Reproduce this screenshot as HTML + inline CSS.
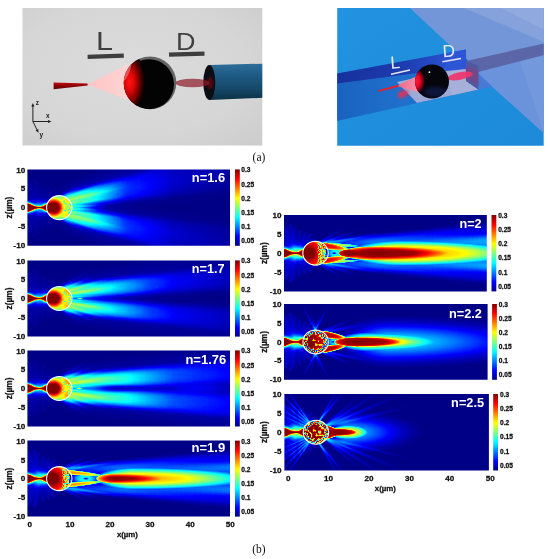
<!DOCTYPE html>
<html><head><meta charset="utf-8"><title>Figure</title>
<style>html,body{margin:0;padding:0;background:#fff}svg{display:block}</style></head>
<body><svg width="550" height="559" viewBox="0 0 550 559">
<defs><filter id="jet" x="0" y="0" width="1" height="1" color-interpolation-filters="sRGB"><feComponentTransfer><feFuncR type="table" tableValues="0 0 0 0 .5 1 1 1 .5"/><feFuncG type="table" tableValues="0 0 .5 1 1 1 .5 0 0"/><feFuncB type="table" tableValues=".5 1 1 1 .5 0 0 0 0"/></feComponentTransfer></filter><filter id="b02" x="-50%" y="-50%" width="200%" height="200%" color-interpolation-filters="sRGB"><feGaussianBlur stdDeviation="0.2"/></filter><filter id="b04" x="-50%" y="-50%" width="200%" height="200%" color-interpolation-filters="sRGB"><feGaussianBlur stdDeviation="0.4"/></filter><filter id="b07" x="-50%" y="-50%" width="200%" height="200%" color-interpolation-filters="sRGB"><feGaussianBlur stdDeviation="0.7"/></filter><filter id="b1" x="-50%" y="-50%" width="200%" height="200%" color-interpolation-filters="sRGB"><feGaussianBlur stdDeviation="1"/></filter><filter id="b15" x="-50%" y="-50%" width="200%" height="200%" color-interpolation-filters="sRGB"><feGaussianBlur stdDeviation="1.5"/></filter><filter id="b2" x="-50%" y="-50%" width="200%" height="200%" color-interpolation-filters="sRGB"><feGaussianBlur stdDeviation="2"/></filter><filter id="b3" x="-50%" y="-50%" width="200%" height="200%" color-interpolation-filters="sRGB"><feGaussianBlur stdDeviation="3"/></filter><radialGradient id="gs" cx="0" cy="0" r="1" gradientUnits="userSpaceOnUse"><stop offset="0.000" stop-color="#fff" stop-opacity="1.000"/><stop offset="0.100" stop-color="#fff" stop-opacity="0.970"/><stop offset="0.200" stop-color="#fff" stop-opacity="0.886"/><stop offset="0.300" stop-color="#fff" stop-opacity="0.761"/><stop offset="0.400" stop-color="#fff" stop-opacity="0.613"/><stop offset="0.500" stop-color="#fff" stop-opacity="0.461"/><stop offset="0.600" stop-color="#fff" stop-opacity="0.321"/><stop offset="0.700" stop-color="#fff" stop-opacity="0.202"/><stop offset="0.800" stop-color="#fff" stop-opacity="0.111"/><stop offset="0.900" stop-color="#fff" stop-opacity="0.045"/><stop offset="1.000" stop-color="#fff" stop-opacity="0.000"/></radialGradient><radialGradient id="gf" cx="0" cy="0" r="1" gradientUnits="userSpaceOnUse"><stop offset="0.000" stop-color="#fff" stop-opacity="1.000"/><stop offset="0.100" stop-color="#fff" stop-opacity="0.998"/><stop offset="0.200" stop-color="#fff" stop-opacity="0.981"/><stop offset="0.300" stop-color="#fff" stop-opacity="0.924"/><stop offset="0.400" stop-color="#fff" stop-opacity="0.805"/><stop offset="0.500" stop-color="#fff" stop-opacity="0.623"/><stop offset="0.600" stop-color="#fff" stop-opacity="0.407"/><stop offset="0.700" stop-color="#fff" stop-opacity="0.213"/><stop offset="0.800" stop-color="#fff" stop-opacity="0.083"/><stop offset="0.900" stop-color="#fff" stop-opacity="0.020"/><stop offset="1.000" stop-color="#fff" stop-opacity="0.000"/></radialGradient><radialGradient id="gk" cx="0" cy="0" r="1" gradientUnits="userSpaceOnUse"><stop offset="0.000" stop-color="#fff" stop-opacity="1.000"/><stop offset="0.100" stop-color="#fff" stop-opacity="0.878"/><stop offset="0.200" stop-color="#fff" stop-opacity="0.636"/><stop offset="0.300" stop-color="#fff" stop-opacity="0.424"/><stop offset="0.400" stop-color="#fff" stop-opacity="0.276"/><stop offset="0.500" stop-color="#fff" stop-opacity="0.179"/><stop offset="0.600" stop-color="#fff" stop-opacity="0.114"/><stop offset="0.700" stop-color="#fff" stop-opacity="0.070"/><stop offset="0.800" stop-color="#fff" stop-opacity="0.039"/><stop offset="0.900" stop-color="#fff" stop-opacity="0.017"/><stop offset="1.000" stop-color="#fff" stop-opacity="0.000"/></radialGradient><rect id="gsL" x="-1" y="-1" width="1" height="2" fill="url(#gs)" shape-rendering="crispEdges"/><rect id="gsR" x="0" y="-1" width="1" height="2" fill="url(#gs)" shape-rendering="crispEdges"/><circle id="gsC" r="1" fill="url(#gs)"/><radialGradient id="gsk" cx="0" cy="0" r="1" gradientUnits="userSpaceOnUse"><stop offset="0.000" stop-color="#000" stop-opacity="1.000"/><stop offset="0.100" stop-color="#000" stop-opacity="0.970"/><stop offset="0.200" stop-color="#000" stop-opacity="0.886"/><stop offset="0.300" stop-color="#000" stop-opacity="0.761"/><stop offset="0.400" stop-color="#000" stop-opacity="0.613"/><stop offset="0.500" stop-color="#000" stop-opacity="0.461"/><stop offset="0.600" stop-color="#000" stop-opacity="0.321"/><stop offset="0.700" stop-color="#000" stop-opacity="0.202"/><stop offset="0.800" stop-color="#000" stop-opacity="0.111"/><stop offset="0.900" stop-color="#000" stop-opacity="0.045"/><stop offset="1.000" stop-color="#000" stop-opacity="0.000"/></radialGradient><circle id="gsD" r="1" fill="url(#gsk)"/><rect id="gsDL" x="-1" y="-1" width="1" height="2" fill="url(#gsk)" shape-rendering="crispEdges"/><rect id="gsDR" x="0" y="-1" width="1" height="2" fill="url(#gsk)" shape-rendering="crispEdges"/><rect id="gfL" x="-1" y="-1" width="1" height="2" fill="url(#gf)" shape-rendering="crispEdges"/><rect id="gfR" x="0" y="-1" width="1" height="2" fill="url(#gf)" shape-rendering="crispEdges"/><circle id="gfC" r="1" fill="url(#gf)"/><radialGradient id="gfk" cx="0" cy="0" r="1" gradientUnits="userSpaceOnUse"><stop offset="0.000" stop-color="#000" stop-opacity="1.000"/><stop offset="0.100" stop-color="#000" stop-opacity="0.998"/><stop offset="0.200" stop-color="#000" stop-opacity="0.981"/><stop offset="0.300" stop-color="#000" stop-opacity="0.924"/><stop offset="0.400" stop-color="#000" stop-opacity="0.805"/><stop offset="0.500" stop-color="#000" stop-opacity="0.623"/><stop offset="0.600" stop-color="#000" stop-opacity="0.407"/><stop offset="0.700" stop-color="#000" stop-opacity="0.213"/><stop offset="0.800" stop-color="#000" stop-opacity="0.083"/><stop offset="0.900" stop-color="#000" stop-opacity="0.020"/><stop offset="1.000" stop-color="#000" stop-opacity="0.000"/></radialGradient><circle id="gfD" r="1" fill="url(#gfk)"/><rect id="gfDL" x="-1" y="-1" width="1" height="2" fill="url(#gfk)" shape-rendering="crispEdges"/><rect id="gfDR" x="0" y="-1" width="1" height="2" fill="url(#gfk)" shape-rendering="crispEdges"/><rect id="gkL" x="-1" y="-1" width="1" height="2" fill="url(#gk)" shape-rendering="crispEdges"/><rect id="gkR" x="0" y="-1" width="1" height="2" fill="url(#gk)" shape-rendering="crispEdges"/><circle id="gkC" r="1" fill="url(#gk)"/><radialGradient id="gkk" cx="0" cy="0" r="1" gradientUnits="userSpaceOnUse"><stop offset="0.000" stop-color="#000" stop-opacity="1.000"/><stop offset="0.100" stop-color="#000" stop-opacity="0.946"/><stop offset="0.200" stop-color="#000" stop-opacity="0.800"/><stop offset="0.300" stop-color="#000" stop-opacity="0.605"/><stop offset="0.400" stop-color="#000" stop-opacity="0.409"/><stop offset="0.500" stop-color="#000" stop-opacity="0.246"/><stop offset="0.600" stop-color="#000" stop-opacity="0.132"/><stop offset="0.700" stop-color="#000" stop-opacity="0.062"/><stop offset="0.800" stop-color="#000" stop-opacity="0.025"/><stop offset="0.900" stop-color="#000" stop-opacity="0.007"/><stop offset="1.000" stop-color="#000" stop-opacity="0.000"/></radialGradient><circle id="gkD" r="1" fill="url(#gkk)"/><rect id="gkDL" x="-1" y="-1" width="1" height="2" fill="url(#gkk)" shape-rendering="crispEdges"/><rect id="gkDR" x="0" y="-1" width="1" height="2" fill="url(#gkk)" shape-rendering="crispEdges"/><linearGradient id="cb" x1="0" y1="0" x2="0" y2="1"><stop offset="0.0000" stop-color="rgb(128,0,0)"/><stop offset="0.0312" stop-color="rgb(159,0,0)"/><stop offset="0.0625" stop-color="rgb(191,0,0)"/><stop offset="0.0938" stop-color="rgb(223,0,0)"/><stop offset="0.1250" stop-color="rgb(254,0,0)"/><stop offset="0.1562" stop-color="rgb(255,31,0)"/><stop offset="0.1875" stop-color="rgb(255,63,0)"/><stop offset="0.2188" stop-color="rgb(255,95,0)"/><stop offset="0.2500" stop-color="rgb(255,126,0)"/><stop offset="0.2812" stop-color="rgb(255,158,0)"/><stop offset="0.3125" stop-color="rgb(255,190,0)"/><stop offset="0.3438" stop-color="rgb(255,221,0)"/><stop offset="0.3750" stop-color="rgb(255,253,0)"/><stop offset="0.4062" stop-color="rgb(225,255,30)"/><stop offset="0.4375" stop-color="rgb(193,255,62)"/><stop offset="0.4688" stop-color="rgb(162,255,93)"/><stop offset="0.5000" stop-color="rgb(130,255,125)"/><stop offset="0.5312" stop-color="rgb(98,255,157)"/><stop offset="0.5625" stop-color="rgb(67,255,188)"/><stop offset="0.5938" stop-color="rgb(35,255,220)"/><stop offset="0.6250" stop-color="rgb(3,255,252)"/><stop offset="0.6562" stop-color="rgb(0,226,255)"/><stop offset="0.6875" stop-color="rgb(0,195,255)"/><stop offset="0.7188" stop-color="rgb(0,163,255)"/><stop offset="0.7500" stop-color="rgb(0,131,255)"/><stop offset="0.7812" stop-color="rgb(0,100,255)"/><stop offset="0.8125" stop-color="rgb(0,68,255)"/><stop offset="0.8438" stop-color="rgb(0,36,255)"/><stop offset="0.8750" stop-color="rgb(0,4,255)"/><stop offset="0.9062" stop-color="rgb(0,0,228)"/><stop offset="0.9375" stop-color="rgb(0,0,196)"/><stop offset="0.9688" stop-color="rgb(0,0,164)"/><stop offset="1.0000" stop-color="rgb(0,0,133)"/></linearGradient><clipPath id="sph"><ellipse cx="7.25" cy="0" rx="3.05" ry="3.1"/></clipPath><filter id="spk" x="0" y="0" width="1" height="1" color-interpolation-filters="sRGB"><feTurbulence type="fractalNoise" baseFrequency="1.7" numOctaves="1" seed="3" result="n"/><feColorMatrix in="n" type="matrix" values="0 0 0 0 0  0 0 0 0 0  0 0 0 0 0  7 0 0 0 -3.7"/><feComposite in2="SourceGraphic" operator="in"/></filter><filter id="spk3" x="-0.2" y="-0.2" width="1.4" height="1.4" color-interpolation-filters="sRGB"><feTurbulence type="fractalNoise" baseFrequency="3.2" numOctaves="1" seed="7" result="n"/><feColorMatrix in="n" type="matrix" values="0 0 0 0 0  0 0 0 0 0  0 0 0 0 0  7 0 0 0 -3.1"/><feComposite in2="SourceGraphic" operator="in"/></filter><filter id="spk2" x="0" y="0" width="1" height="1" color-interpolation-filters="sRGB"><feTurbulence type="fractalNoise" baseFrequency="1.9" numOctaves="1" seed="11" result="n"/><feColorMatrix in="n" type="matrix" values="0 0 0 0 1  0 0 0 0 1  0 0 0 0 1  0 5 0 0 -2.2"/><feComposite in2="SourceGraphic" operator="in"/></filter><linearGradient id="w16c" gradientUnits="userSpaceOnUse" x1="8.50" y1="0" x2="52.00" y2="0"><stop offset="0.000" stop-color="#fff" stop-opacity="0.100"/><stop offset="0.149" stop-color="#fff" stop-opacity="0.080"/><stop offset="0.356" stop-color="#fff" stop-opacity="0.040"/><stop offset="0.632" stop-color="#fff" stop-opacity="0.020"/><stop offset="1.000" stop-color="#fff" stop-opacity="0.008"/></linearGradient><linearGradient id="w16a" gradientUnits="userSpaceOnUse" x1="8.50" y1="0" x2="52.00" y2="0"><stop offset="0.000" stop-color="#fff" stop-opacity="0.400"/><stop offset="0.149" stop-color="#fff" stop-opacity="0.360"/><stop offset="0.264" stop-color="#fff" stop-opacity="0.230"/><stop offset="0.356" stop-color="#fff" stop-opacity="0.120"/><stop offset="0.632" stop-color="#fff" stop-opacity="0.040"/><stop offset="1.000" stop-color="#fff" stop-opacity="0.015"/></linearGradient><linearGradient id="w16b" gradientUnits="userSpaceOnUse" x1="8.50" y1="0" x2="52.00" y2="0"><stop offset="0.000" stop-color="#fff" stop-opacity="0.100"/><stop offset="0.149" stop-color="#fff" stop-opacity="0.080"/><stop offset="0.356" stop-color="#fff" stop-opacity="0.030"/><stop offset="0.632" stop-color="#fff" stop-opacity="0.020"/><stop offset="1.000" stop-color="#fff" stop-opacity="0.012"/></linearGradient><radialGradient id="rg1" cx="0" cy="0" r="1" gradientUnits="userSpaceOnUse"><stop offset="0.000" stop-color="#fff" stop-opacity="1.000"/><stop offset="0.280" stop-color="#fff" stop-opacity="1.000"/><stop offset="0.380" stop-color="#fff" stop-opacity="0.880"/><stop offset="0.470" stop-color="#fff" stop-opacity="0.750"/><stop offset="0.560" stop-color="#fff" stop-opacity="0.620"/><stop offset="0.660" stop-color="#fff" stop-opacity="0.500"/><stop offset="0.780" stop-color="#fff" stop-opacity="0.400"/><stop offset="0.900" stop-color="#fff" stop-opacity="0.320"/><stop offset="1.000" stop-color="#fff" stop-opacity="0.280"/></radialGradient><linearGradient id="w17c" gradientUnits="userSpaceOnUse" x1="8.50" y1="0" x2="52.00" y2="0"><stop offset="0.000" stop-color="#fff" stop-opacity="0.080"/><stop offset="0.172" stop-color="#fff" stop-opacity="0.070"/><stop offset="0.356" stop-color="#fff" stop-opacity="0.040"/><stop offset="0.632" stop-color="#fff" stop-opacity="0.025"/><stop offset="1.000" stop-color="#fff" stop-opacity="0.015"/></linearGradient><linearGradient id="w17a" gradientUnits="userSpaceOnUse" x1="8.50" y1="0" x2="52.00" y2="0"><stop offset="0.000" stop-color="#fff" stop-opacity="0.420"/><stop offset="0.172" stop-color="#fff" stop-opacity="0.380"/><stop offset="0.356" stop-color="#fff" stop-opacity="0.250"/><stop offset="0.494" stop-color="#fff" stop-opacity="0.140"/><stop offset="0.632" stop-color="#fff" stop-opacity="0.080"/><stop offset="1.000" stop-color="#fff" stop-opacity="0.030"/></linearGradient><linearGradient id="w17b" gradientUnits="userSpaceOnUse" x1="8.50" y1="0" x2="52.00" y2="0"><stop offset="0.000" stop-color="#fff" stop-opacity="0.100"/><stop offset="0.172" stop-color="#fff" stop-opacity="0.080"/><stop offset="0.356" stop-color="#fff" stop-opacity="0.050"/><stop offset="0.632" stop-color="#fff" stop-opacity="0.025"/><stop offset="1.000" stop-color="#fff" stop-opacity="0.010"/></linearGradient><radialGradient id="rg2" cx="0" cy="0" r="1" gradientUnits="userSpaceOnUse"><stop offset="0.000" stop-color="#fff" stop-opacity="1.000"/><stop offset="0.280" stop-color="#fff" stop-opacity="1.000"/><stop offset="0.380" stop-color="#fff" stop-opacity="0.880"/><stop offset="0.470" stop-color="#fff" stop-opacity="0.750"/><stop offset="0.570" stop-color="#fff" stop-opacity="0.620"/><stop offset="0.700" stop-color="#fff" stop-opacity="0.500"/><stop offset="0.850" stop-color="#fff" stop-opacity="0.420"/><stop offset="1.000" stop-color="#fff" stop-opacity="0.360"/></radialGradient><linearGradient id="w176c" gradientUnits="userSpaceOnUse" x1="8.50" y1="0" x2="52.00" y2="0"><stop offset="0.000" stop-color="#fff" stop-opacity="0.080"/><stop offset="0.172" stop-color="#fff" stop-opacity="0.070"/><stop offset="0.356" stop-color="#fff" stop-opacity="0.050"/><stop offset="0.632" stop-color="#fff" stop-opacity="0.040"/><stop offset="1.000" stop-color="#fff" stop-opacity="0.030"/></linearGradient><linearGradient id="w176a" gradientUnits="userSpaceOnUse" x1="8.50" y1="0" x2="52.00" y2="0"><stop offset="0.000" stop-color="#fff" stop-opacity="0.440"/><stop offset="0.172" stop-color="#fff" stop-opacity="0.420"/><stop offset="0.356" stop-color="#fff" stop-opacity="0.350"/><stop offset="0.494" stop-color="#fff" stop-opacity="0.240"/><stop offset="0.632" stop-color="#fff" stop-opacity="0.150"/><stop offset="1.000" stop-color="#fff" stop-opacity="0.070"/></linearGradient><linearGradient id="w176b" gradientUnits="userSpaceOnUse" x1="8.50" y1="0" x2="52.00" y2="0"><stop offset="0.000" stop-color="#fff" stop-opacity="0.100"/><stop offset="0.172" stop-color="#fff" stop-opacity="0.090"/><stop offset="0.356" stop-color="#fff" stop-opacity="0.070"/><stop offset="0.632" stop-color="#fff" stop-opacity="0.040"/><stop offset="1.000" stop-color="#fff" stop-opacity="0.020"/></linearGradient><radialGradient id="rg3" cx="0" cy="0" r="1" gradientUnits="userSpaceOnUse"><stop offset="0.000" stop-color="#fff" stop-opacity="1.000"/><stop offset="0.280" stop-color="#fff" stop-opacity="1.000"/><stop offset="0.380" stop-color="#fff" stop-opacity="0.880"/><stop offset="0.470" stop-color="#fff" stop-opacity="0.750"/><stop offset="0.570" stop-color="#fff" stop-opacity="0.620"/><stop offset="0.700" stop-color="#fff" stop-opacity="0.500"/><stop offset="0.850" stop-color="#fff" stop-opacity="0.440"/><stop offset="1.000" stop-color="#fff" stop-opacity="0.380"/></radialGradient><linearGradient id="w19t" gradientUnits="userSpaceOnUse" x1="26.00" y1="0" x2="52.00" y2="0"><stop offset="0.000" stop-color="#fff" stop-opacity="0.000"/><stop offset="0.385" stop-color="#fff" stop-opacity="0.100"/><stop offset="1.000" stop-color="#fff" stop-opacity="0.200"/></linearGradient><linearGradient id="w19s" gradientUnits="userSpaceOnUse" x1="10.00" y1="0" x2="52.00" y2="0"><stop offset="0.000" stop-color="#fff" stop-opacity="0.220"/><stop offset="0.238" stop-color="#fff" stop-opacity="0.200"/><stop offset="0.595" stop-color="#fff" stop-opacity="0.140"/><stop offset="1.000" stop-color="#fff" stop-opacity="0.085"/></linearGradient><radialGradient id="mg4" cx="0" cy="0" r="1" gradientUnits="userSpaceOnUse"><stop offset="0.000" stop-color="rgb(184,184,184)"/><stop offset="0.200" stop-color="rgb(178,178,178)"/><stop offset="0.430" stop-color="rgb(159,159,159)"/><stop offset="0.600" stop-color="rgb(128,128,128)"/><stop offset="0.760" stop-color="rgb(96,96,96)"/><stop offset="0.900" stop-color="rgb(56,56,56)"/><stop offset="1.000" stop-color="rgb(0,0,0)"/></radialGradient><radialGradient id="mg5" cx="0" cy="0" r="1" gradientUnits="userSpaceOnUse"><stop offset="0.000" stop-color="rgb(255,255,255)"/><stop offset="0.390" stop-color="rgb(247,247,247)"/><stop offset="0.580" stop-color="rgb(223,223,223)"/><stop offset="0.800" stop-color="rgb(191,191,191)"/><stop offset="1.000" stop-color="rgb(158,158,158)"/></radialGradient><radialGradient id="mg6" cx="0" cy="0" r="1" gradientUnits="userSpaceOnUse"><stop offset="0.000" stop-color="rgb(189,189,189)"/><stop offset="0.400" stop-color="rgb(178,178,178)"/><stop offset="0.650" stop-color="rgb(158,158,158)"/><stop offset="0.850" stop-color="rgb(102,102,102)"/><stop offset="1.000" stop-color="rgb(0,0,0)"/></radialGradient><radialGradient id="mg7" cx="0" cy="0" r="1" gradientUnits="userSpaceOnUse"><stop offset="0.000" stop-color="rgb(189,189,189)"/><stop offset="0.400" stop-color="rgb(178,178,178)"/><stop offset="0.650" stop-color="rgb(158,158,158)"/><stop offset="0.850" stop-color="rgb(102,102,102)"/><stop offset="1.000" stop-color="rgb(0,0,0)"/></radialGradient><radialGradient id="rg8" cx="0" cy="0" r="1" gradientUnits="userSpaceOnUse"><stop offset="0.000" stop-color="#fff" stop-opacity="1.000"/><stop offset="0.300" stop-color="#fff" stop-opacity="1.000"/><stop offset="0.500" stop-color="#fff" stop-opacity="0.920"/><stop offset="0.700" stop-color="#fff" stop-opacity="0.860"/><stop offset="0.850" stop-color="#fff" stop-opacity="0.700"/><stop offset="1.000" stop-color="#fff" stop-opacity="0.500"/></radialGradient><linearGradient id="w20t" gradientUnits="userSpaceOnUse" x1="26.00" y1="0" x2="52.00" y2="0"><stop offset="0.000" stop-color="#fff" stop-opacity="0.000"/><stop offset="0.385" stop-color="#fff" stop-opacity="0.120"/><stop offset="1.000" stop-color="#fff" stop-opacity="0.240"/></linearGradient><linearGradient id="w20s" gradientUnits="userSpaceOnUse" x1="10.00" y1="0" x2="52.00" y2="0"><stop offset="0.000" stop-color="#fff" stop-opacity="0.220"/><stop offset="0.238" stop-color="#fff" stop-opacity="0.200"/><stop offset="0.595" stop-color="#fff" stop-opacity="0.140"/><stop offset="1.000" stop-color="#fff" stop-opacity="0.085"/></linearGradient><radialGradient id="mg9" cx="0" cy="0" r="1" gradientUnits="userSpaceOnUse"><stop offset="0.000" stop-color="rgb(189,189,189)"/><stop offset="0.250" stop-color="rgb(178,178,178)"/><stop offset="0.500" stop-color="rgb(159,159,159)"/><stop offset="0.650" stop-color="rgb(128,128,128)"/><stop offset="0.770" stop-color="rgb(96,96,96)"/><stop offset="0.900" stop-color="rgb(56,56,56)"/><stop offset="1.000" stop-color="rgb(0,0,0)"/></radialGradient><radialGradient id="mg10" cx="0" cy="0" r="1" gradientUnits="userSpaceOnUse"><stop offset="0.000" stop-color="rgb(255,255,255)"/><stop offset="0.550" stop-color="rgb(247,247,247)"/><stop offset="0.710" stop-color="rgb(223,223,223)"/><stop offset="0.890" stop-color="rgb(191,191,191)"/><stop offset="1.000" stop-color="rgb(168,168,168)"/></radialGradient><radialGradient id="mg11" cx="0" cy="0" r="1" gradientUnits="userSpaceOnUse"><stop offset="0.000" stop-color="rgb(255,255,255)"/><stop offset="0.600" stop-color="rgb(247,247,247)"/><stop offset="0.850" stop-color="rgb(230,230,230)"/><stop offset="1.000" stop-color="rgb(204,204,204)"/></radialGradient><radialGradient id="mg12" cx="0" cy="0" r="1" gradientUnits="userSpaceOnUse"><stop offset="0.000" stop-color="rgb(230,230,230)"/><stop offset="0.400" stop-color="rgb(219,219,219)"/><stop offset="0.650" stop-color="rgb(191,191,191)"/><stop offset="0.850" stop-color="rgb(115,115,115)"/><stop offset="1.000" stop-color="rgb(0,0,0)"/></radialGradient><radialGradient id="mg13" cx="0" cy="0" r="1" gradientUnits="userSpaceOnUse"><stop offset="0.000" stop-color="rgb(230,230,230)"/><stop offset="0.400" stop-color="rgb(219,219,219)"/><stop offset="0.650" stop-color="rgb(191,191,191)"/><stop offset="0.850" stop-color="rgb(115,115,115)"/><stop offset="1.000" stop-color="rgb(0,0,0)"/></radialGradient><radialGradient id="mg14" cx="0" cy="0" r="1" gradientUnits="userSpaceOnUse"><stop offset="0.000" stop-color="rgb(153,153,153)"/><stop offset="0.500" stop-color="rgb(140,140,140)"/><stop offset="0.800" stop-color="rgb(102,102,102)"/><stop offset="1.000" stop-color="rgb(0,0,0)"/></radialGradient><radialGradient id="mg15" cx="0" cy="0" r="1" gradientUnits="userSpaceOnUse"><stop offset="0.000" stop-color="rgb(153,153,153)"/><stop offset="0.500" stop-color="rgb(140,140,140)"/><stop offset="0.800" stop-color="rgb(102,102,102)"/><stop offset="1.000" stop-color="rgb(0,0,0)"/></radialGradient><radialGradient id="rg16" cx="0" cy="0" r="1" gradientUnits="userSpaceOnUse"><stop offset="0.000" stop-color="#fff" stop-opacity="1.000"/><stop offset="0.300" stop-color="#fff" stop-opacity="1.000"/><stop offset="0.500" stop-color="#fff" stop-opacity="0.920"/><stop offset="0.700" stop-color="#fff" stop-opacity="0.860"/><stop offset="0.850" stop-color="#fff" stop-opacity="0.700"/><stop offset="1.000" stop-color="#fff" stop-opacity="0.500"/></radialGradient><radialGradient id="mg17" cx="0" cy="0" r="1" gradientUnits="userSpaceOnUse"><stop offset="0.000" stop-color="rgb(191,191,191)"/><stop offset="0.300" stop-color="rgb(173,173,173)"/><stop offset="0.410" stop-color="rgb(159,159,159)"/><stop offset="0.500" stop-color="rgb(128,128,128)"/><stop offset="0.670" stop-color="rgb(96,96,96)"/><stop offset="0.850" stop-color="rgb(56,56,56)"/><stop offset="1.000" stop-color="rgb(0,0,0)"/></radialGradient><radialGradient id="mg18" cx="0" cy="0" r="1" gradientUnits="userSpaceOnUse"><stop offset="0.000" stop-color="rgb(255,255,255)"/><stop offset="0.680" stop-color="rgb(247,247,247)"/><stop offset="0.850" stop-color="rgb(223,223,223)"/><stop offset="1.000" stop-color="rgb(184,184,184)"/></radialGradient><radialGradient id="mg19" cx="0" cy="0" r="1" gradientUnits="userSpaceOnUse"><stop offset="0.000" stop-color="rgb(242,242,242)"/><stop offset="0.400" stop-color="rgb(242,242,242)"/><stop offset="0.650" stop-color="rgb(209,209,209)"/><stop offset="0.850" stop-color="rgb(128,128,128)"/><stop offset="1.000" stop-color="rgb(0,0,0)"/></radialGradient><radialGradient id="mg20" cx="0" cy="0" r="1" gradientUnits="userSpaceOnUse"><stop offset="0.000" stop-color="rgb(242,242,242)"/><stop offset="0.400" stop-color="rgb(242,242,242)"/><stop offset="0.650" stop-color="rgb(209,209,209)"/><stop offset="0.850" stop-color="rgb(128,128,128)"/><stop offset="1.000" stop-color="rgb(0,0,0)"/></radialGradient><radialGradient id="rg21" cx="0" cy="0" r="1" gradientUnits="userSpaceOnUse"><stop offset="0.000" stop-color="#fff" stop-opacity="1.000"/><stop offset="0.300" stop-color="#fff" stop-opacity="1.000"/><stop offset="0.500" stop-color="#fff" stop-opacity="0.950"/><stop offset="0.750" stop-color="#fff" stop-opacity="0.920"/><stop offset="0.900" stop-color="#fff" stop-opacity="0.850"/><stop offset="1.000" stop-color="#fff" stop-opacity="0.700"/></radialGradient><radialGradient id="mg22" cx="0" cy="0" r="1" gradientUnits="userSpaceOnUse"><stop offset="0.000" stop-color="rgb(178,178,178)"/><stop offset="0.400" stop-color="rgb(153,153,153)"/><stop offset="0.620" stop-color="rgb(128,128,128)"/><stop offset="0.800" stop-color="rgb(96,96,96)"/><stop offset="0.920" stop-color="rgb(51,51,51)"/><stop offset="1.000" stop-color="rgb(0,0,0)"/></radialGradient><radialGradient id="mg23" cx="0" cy="0" r="1" gradientUnits="userSpaceOnUse"><stop offset="0.000" stop-color="rgb(255,255,255)"/><stop offset="0.700" stop-color="rgb(247,247,247)"/><stop offset="0.880" stop-color="rgb(223,223,223)"/><stop offset="1.000" stop-color="rgb(191,191,191)"/></radialGradient><radialGradient id="mg24" cx="0" cy="0" r="1" gradientUnits="userSpaceOnUse"><stop offset="0.000" stop-color="rgb(242,242,242)"/><stop offset="0.400" stop-color="rgb(242,242,242)"/><stop offset="0.650" stop-color="rgb(209,209,209)"/><stop offset="0.850" stop-color="rgb(128,128,128)"/><stop offset="1.000" stop-color="rgb(0,0,0)"/></radialGradient><radialGradient id="mg25" cx="0" cy="0" r="1" gradientUnits="userSpaceOnUse"><stop offset="0.000" stop-color="rgb(242,242,242)"/><stop offset="0.400" stop-color="rgb(242,242,242)"/><stop offset="0.650" stop-color="rgb(209,209,209)"/><stop offset="0.850" stop-color="rgb(128,128,128)"/><stop offset="1.000" stop-color="rgb(0,0,0)"/></radialGradient><radialGradient id="rg26" cx="0" cy="0" r="1" gradientUnits="userSpaceOnUse"><stop offset="0.000" stop-color="#fff" stop-opacity="1.000"/><stop offset="0.500" stop-color="#fff" stop-opacity="1.000"/><stop offset="0.750" stop-color="#fff" stop-opacity="0.950"/><stop offset="1.000" stop-color="#fff" stop-opacity="0.900"/></radialGradient><radialGradient id="bgL" cx="0.45" cy="0.45" r="0.78"><stop offset="0" stop-color="#dcdcdc"/><stop offset="0.6" stop-color="#d6d6d6"/><stop offset="1" stop-color="#cbcbcb"/></radialGradient><clipPath id="cL"><rect x="22.5" y="8" width="239.8" height="137.6"/></clipPath><linearGradient id="fib" x1="0" y1="0" x2="0" y2="1"><stop offset="0" stop-color="#2c6e98"/><stop offset="0.3" stop-color="#1f5c86"/><stop offset="0.7" stop-color="#154868"/><stop offset="1" stop-color="#0c3048"/></linearGradient><radialGradient id="sphL" cx="129.5" cy="82" r="1" gradientUnits="userSpaceOnUse" gradientTransform="translate(129.5 82) scale(15 30) translate(-129.5 -82)"><stop offset="0" stop-color="#ff1414"/><stop offset="0.3" stop-color="#e00808"/><stop offset="0.6" stop-color="#8a0000"/><stop offset="0.85" stop-color="#300000"/><stop offset="1" stop-color="#050000"/></radialGradient><linearGradient id="coneL" gradientUnits="userSpaceOnUse" x1="87" y1="0" x2="130" y2="0"><stop offset="0" stop-color="#ffc4c4"/><stop offset="0.7" stop-color="#ffcfcf"/><stop offset="1" stop-color="#ffd6d6" stop-opacity="0.85"/></linearGradient><linearGradient id="tapL" x1="0" y1="0" x2="0" y2="1"><stop offset="0" stop-color="#c01010"/><stop offset="0.5" stop-color="#8c0000"/><stop offset="1" stop-color="#600000"/></linearGradient><clipPath id="cSphL"><circle cx="150" cy="82.9" r="26.3"/></clipPath><clipPath id="cR"><rect x="337.2" y="8" width="206.5" height="137.8"/></clipPath><linearGradient id="bgR" x1="0" y1="0" x2="1" y2="1"><stop offset="0" stop-color="#2293e0"/><stop offset="1" stop-color="#1c8ad8"/></linearGradient><linearGradient id="wallR" gradientUnits="userSpaceOnUse" x1="337" y1="0" x2="470" y2="0"><stop offset="0" stop-color="#17309c"/><stop offset="0.5" stop-color="#1c3cb0"/><stop offset="0.85" stop-color="#2a52d2"/><stop offset="1" stop-color="#3a62d8"/></linearGradient><linearGradient id="floorR" gradientUnits="userSpaceOnUse" x1="337" y1="0" x2="400" y2="0"><stop offset="0" stop-color="#1a62c0"/><stop offset="1" stop-color="#1e70cc"/></linearGradient><radialGradient id="sphR" cx="416" cy="81" r="1" gradientUnits="userSpaceOnUse" gradientTransform="translate(416 81) scale(9 13) translate(-416 -81)"><stop offset="0" stop-color="#ff1838"/><stop offset="0.45" stop-color="#e80828"/><stop offset="0.8" stop-color="#700010"/><stop offset="1" stop-color="#040008"/></radialGradient><clipPath id="cSphR"><circle cx="432" cy="81.5" r="17"/></clipPath><linearGradient id="coneR" gradientUnits="userSpaceOnUse" x1="397" y1="0" x2="420" y2="0"><stop offset="0" stop-color="#f4607c"/><stop offset="1" stop-color="#ff98b0"/></linearGradient></defs>
<clipPath id="cn1_6"><rect x="27.40" y="169.40" width="202.60" height="76.40"/></clipPath><g clip-path="url(#cn1_6)"><g filter="url(#jet)"><rect x="22.40" y="164.40" width="212.60" height="86.40" fill="#020202"/><g transform="translate(29.80 207.60) scale(4.010 -3.820)"><polygon points="8.50,0.50 52.00,3.00 52.00,22.00 8.50,3.50" fill="url(#w16c)" filter="url(#b2)"/><polygon points="8.50,-0.50 52.00,-3.00 52.00,-22.00 8.50,-3.50" fill="url(#w16c)" filter="url(#b2)"/><polygon points="8.50,0.50 52.00,5.00 52.00,16.50 8.50,3.00" fill="url(#w16a)" filter="url(#b07)"/><polygon points="8.50,-0.50 52.00,-5.00 52.00,-16.50 8.50,-3.00" fill="url(#w16a)" filter="url(#b07)"/><polygon points="8.50,1.50 52.00,7.50 52.00,12.50 8.50,2.50" fill="url(#w16b)" filter="url(#b1)"/><polygon points="8.50,-1.50 52.00,-7.50 52.00,-12.50 8.50,-2.50" fill="url(#w16b)" filter="url(#b1)"/><use href="#gsL" transform="translate(8.60 2.50) rotate(21.0) scale(1.20 1.00)" opacity="0.150"/><use href="#gsR" transform="translate(8.60 2.50) rotate(21.0) scale(13.00 1.00)" opacity="0.150"/><use href="#gsL" transform="translate(8.60 -2.50) rotate(-21.0) scale(1.20 1.00)" opacity="0.150"/><use href="#gsR" transform="translate(8.60 -2.50) rotate(-21.0) scale(13.00 1.00)" opacity="0.150"/><use href="#gsL" transform="translate(9.30 1.90) rotate(14.0) scale(1.20 0.90)" opacity="0.160"/><use href="#gsR" transform="translate(9.30 1.90) rotate(14.0) scale(17.00 0.90)" opacity="0.160"/><use href="#gsL" transform="translate(9.30 -1.90) rotate(-14.0) scale(1.20 0.90)" opacity="0.160"/><use href="#gsR" transform="translate(9.30 -1.90) rotate(-14.0) scale(17.00 0.90)" opacity="0.160"/><use href="#gsL" transform="translate(9.90 1.10) rotate(7.5) scale(1.20 0.80)" opacity="0.160"/><use href="#gsR" transform="translate(9.90 1.10) rotate(7.5) scale(14.00 0.80)" opacity="0.160"/><use href="#gsL" transform="translate(9.90 -1.10) rotate(-7.5) scale(1.20 0.80)" opacity="0.160"/><use href="#gsR" transform="translate(9.90 -1.10) rotate(-7.5) scale(14.00 0.80)" opacity="0.160"/><use href="#gsL" transform="translate(10.20 0.30) rotate(2.0) scale(1.20 0.55)" opacity="0.180"/><use href="#gsR" transform="translate(10.20 0.30) rotate(2.0) scale(9.00 0.55)" opacity="0.180"/><use href="#gsL" transform="translate(10.20 -0.30) rotate(-2.0) scale(1.20 0.55)" opacity="0.180"/><use href="#gsR" transform="translate(10.20 -0.30) rotate(-2.0) scale(9.00 0.55)" opacity="0.180"/><use href="#gsL" transform="translate(10.50 0.00) scale(1.50 2.00)" opacity="0.200"/><use href="#gsR" transform="translate(10.50 0.00) scale(10.00 2.00)" opacity="0.200"/><use href="#gsL" transform="translate(8.00 2.90) rotate(29.0) scale(1.20 0.80)" opacity="0.080"/><use href="#gsR" transform="translate(8.00 2.90) rotate(29.0) scale(9.00 0.80)" opacity="0.080"/><use href="#gsL" transform="translate(8.00 -2.90) rotate(-29.0) scale(1.20 0.80)" opacity="0.080"/><use href="#gsR" transform="translate(8.00 -2.90) rotate(-29.0) scale(9.00 0.80)" opacity="0.080"/><line x1="2.68" y1="0.99" x2="1.96" y2="6.82" stroke="#fff" stroke-width="0.20" opacity="0.057" stroke-linecap="round" filter="url(#b02)"/><line x1="2.68" y1="-0.99" x2="1.96" y2="-6.82" stroke="#fff" stroke-width="0.20" opacity="0.057" stroke-linecap="round" filter="url(#b02)"/><line x1="2.58" y1="0.97" x2="1.08" y2="7.43" stroke="#fff" stroke-width="0.20" opacity="0.088" stroke-linecap="round" filter="url(#b02)"/><line x1="2.58" y1="-0.97" x2="1.08" y2="-7.43" stroke="#fff" stroke-width="0.20" opacity="0.088" stroke-linecap="round" filter="url(#b02)"/><line x1="2.47" y1="0.95" x2="0.64" y2="6.26" stroke="#fff" stroke-width="0.20" opacity="0.047" stroke-linecap="round" filter="url(#b02)"/><line x1="2.47" y1="-0.95" x2="0.64" y2="-6.26" stroke="#fff" stroke-width="0.20" opacity="0.047" stroke-linecap="round" filter="url(#b02)"/><line x1="2.38" y1="0.91" x2="-0.53" y2="7.14" stroke="#fff" stroke-width="0.20" opacity="0.099" stroke-linecap="round" filter="url(#b02)"/><line x1="2.38" y1="-0.91" x2="-0.53" y2="-7.14" stroke="#fff" stroke-width="0.20" opacity="0.099" stroke-linecap="round" filter="url(#b02)"/><line x1="2.28" y1="0.86" x2="-0.81" y2="6.00" stroke="#fff" stroke-width="0.20" opacity="0.062" stroke-linecap="round" filter="url(#b02)"/><line x1="2.28" y1="-0.86" x2="-0.81" y2="-6.00" stroke="#fff" stroke-width="0.20" opacity="0.062" stroke-linecap="round" filter="url(#b02)"/><line x1="2.20" y1="0.80" x2="-2.01" y2="6.39" stroke="#fff" stroke-width="0.20" opacity="0.104" stroke-linecap="round" filter="url(#b02)"/><line x1="2.20" y1="-0.80" x2="-2.01" y2="-6.39" stroke="#fff" stroke-width="0.20" opacity="0.104" stroke-linecap="round" filter="url(#b02)"/><line x1="2.12" y1="0.73" x2="-1.89" y2="5.03" stroke="#fff" stroke-width="0.20" opacity="0.057" stroke-linecap="round" filter="url(#b02)"/><line x1="2.12" y1="-0.73" x2="-1.89" y2="-5.03" stroke="#fff" stroke-width="0.20" opacity="0.057" stroke-linecap="round" filter="url(#b02)"/><line x1="2.05" y1="0.66" x2="-2.95" y2="5.00" stroke="#fff" stroke-width="0.20" opacity="0.088" stroke-linecap="round" filter="url(#b02)"/><line x1="2.05" y1="-0.66" x2="-2.95" y2="-5.00" stroke="#fff" stroke-width="0.20" opacity="0.088" stroke-linecap="round" filter="url(#b02)"/><line x1="1.98" y1="0.57" x2="-2.63" y2="3.80" stroke="#fff" stroke-width="0.20" opacity="0.047" stroke-linecap="round" filter="url(#b02)"/><line x1="1.98" y1="-0.57" x2="-2.63" y2="-3.80" stroke="#fff" stroke-width="0.20" opacity="0.047" stroke-linecap="round" filter="url(#b02)"/><line x1="1.93" y1="0.48" x2="-4.09" y2="3.82" stroke="#fff" stroke-width="0.20" opacity="0.099" stroke-linecap="round" filter="url(#b02)"/><line x1="1.93" y1="-0.48" x2="-4.09" y2="-3.82" stroke="#fff" stroke-width="0.20" opacity="0.099" stroke-linecap="round" filter="url(#b02)"/><line x1="1.88" y1="0.39" x2="-3.64" y2="2.74" stroke="#fff" stroke-width="0.20" opacity="0.062" stroke-linecap="round" filter="url(#b02)"/><line x1="1.88" y1="-0.39" x2="-3.64" y2="-2.74" stroke="#fff" stroke-width="0.20" opacity="0.062" stroke-linecap="round" filter="url(#b02)"/><line x1="1.84" y1="0.29" x2="-4.85" y2="2.34" stroke="#fff" stroke-width="0.20" opacity="0.104" stroke-linecap="round" filter="url(#b02)"/><line x1="1.84" y1="-0.29" x2="-4.85" y2="-2.34" stroke="#fff" stroke-width="0.20" opacity="0.104" stroke-linecap="round" filter="url(#b02)"/><line x1="1.82" y1="0.19" x2="-3.95" y2="1.31" stroke="#fff" stroke-width="0.20" opacity="0.057" stroke-linecap="round" filter="url(#b02)"/><line x1="1.82" y1="-0.19" x2="-3.95" y2="-1.31" stroke="#fff" stroke-width="0.20" opacity="0.057" stroke-linecap="round" filter="url(#b02)"/><line x1="3.68" y1="0.47" x2="7.77" y2="2.64" stroke="#fff" stroke-width="0.20" opacity="0.075" stroke-linecap="round" filter="url(#b02)"/><line x1="3.68" y1="-0.47" x2="7.77" y2="-2.64" stroke="#fff" stroke-width="0.20" opacity="0.075" stroke-linecap="round" filter="url(#b02)"/><line x1="3.62" y1="0.57" x2="6.59" y2="2.65" stroke="#fff" stroke-width="0.20" opacity="0.040" stroke-linecap="round" filter="url(#b02)"/><line x1="3.62" y1="-0.57" x2="6.59" y2="-2.65" stroke="#fff" stroke-width="0.20" opacity="0.040" stroke-linecap="round" filter="url(#b02)"/><line x1="3.54" y1="0.67" x2="7.17" y2="3.93" stroke="#fff" stroke-width="0.20" opacity="0.084" stroke-linecap="round" filter="url(#b02)"/><line x1="3.54" y1="-0.67" x2="7.17" y2="-3.93" stroke="#fff" stroke-width="0.20" opacity="0.084" stroke-linecap="round" filter="url(#b02)"/><line x1="3.46" y1="0.75" x2="6.08" y2="3.77" stroke="#fff" stroke-width="0.20" opacity="0.053" stroke-linecap="round" filter="url(#b02)"/><line x1="3.46" y1="-0.75" x2="6.08" y2="-3.77" stroke="#fff" stroke-width="0.20" opacity="0.053" stroke-linecap="round" filter="url(#b02)"/><line x1="3.36" y1="0.83" x2="6.16" y2="4.97" stroke="#fff" stroke-width="0.20" opacity="0.088" stroke-linecap="round" filter="url(#b02)"/><line x1="3.36" y1="-0.83" x2="6.16" y2="-4.97" stroke="#fff" stroke-width="0.20" opacity="0.088" stroke-linecap="round" filter="url(#b02)"/><line x1="3.25" y1="0.89" x2="5.01" y2="4.34" stroke="#fff" stroke-width="0.20" opacity="0.048" stroke-linecap="round" filter="url(#b02)"/><line x1="3.25" y1="-0.89" x2="5.01" y2="-4.34" stroke="#fff" stroke-width="0.20" opacity="0.048" stroke-linecap="round" filter="url(#b02)"/><line x1="3.14" y1="0.94" x2="4.72" y2="5.29" stroke="#fff" stroke-width="0.20" opacity="0.075" stroke-linecap="round" filter="url(#b02)"/><line x1="3.14" y1="-0.94" x2="4.72" y2="-5.29" stroke="#fff" stroke-width="0.20" opacity="0.075" stroke-linecap="round" filter="url(#b02)"/><line x1="3.02" y1="0.97" x2="3.84" y2="4.51" stroke="#fff" stroke-width="0.20" opacity="0.040" stroke-linecap="round" filter="url(#b02)"/><line x1="3.02" y1="-0.97" x2="3.84" y2="-4.51" stroke="#fff" stroke-width="0.20" opacity="0.040" stroke-linecap="round" filter="url(#b02)"/><line x1="2.90" y1="0.99" x2="3.41" y2="5.84" stroke="#fff" stroke-width="0.20" opacity="0.084" stroke-linecap="round" filter="url(#b02)"/><line x1="2.90" y1="-0.99" x2="3.41" y2="-5.84" stroke="#fff" stroke-width="0.20" opacity="0.084" stroke-linecap="round" filter="url(#b02)"/><use href="#gsC" transform="translate(2.80 0.00) scale(3.40 2.80)" opacity="0.144"/><polygon points="-1.00,1.38 0.00,1.10 0.70,0.68 1.30,0.36 2.00,0.26 3.00,0.26 3.40,0.44 3.90,0.80 4.60,1.15 4.60,0.00 4.60,0.00 4.60,-1.15 3.90,-0.80 3.40,-0.44 3.00,-0.26 2.00,-0.26 1.30,-0.36 0.70,-0.68 0.00,-1.10 -1.00,-1.38" fill="#fff" opacity="0.300" filter="url(#b1)"/><polygon points="-1.00,1.38 0.00,1.10 0.70,0.68 1.30,0.36 2.00,0.26 3.00,0.26 3.40,0.44 3.90,0.80 4.60,1.15 4.60,0.00 4.60,0.00 4.60,-1.15 3.90,-0.80 3.40,-0.44 3.00,-0.26 2.00,-0.26 1.30,-0.36 0.70,-0.68 0.00,-1.10 -1.00,-1.38" fill="#fff" opacity="0.675" filter="url(#b04)"/><polygon points="-1.00,1.38 0.00,1.10 0.70,0.68 1.30,0.36 2.00,0.26 3.00,0.26 3.40,0.44 3.90,0.80 4.60,1.15 4.60,0.00 4.60,0.00 4.60,-1.15 3.90,-0.80 3.40,-0.44 3.00,-0.26 2.00,-0.26 1.30,-0.36 0.70,-0.68 0.00,-1.10 -1.00,-1.38" fill="#fff" opacity="0.400" filter="url(#b02)"/><g clip-path="url(#sph)"><circle r="1" fill="url(#rg1)" transform="translate(6.00 0.00) scale(4.30 4.30)"/><polygon points="4.10,0.50 4.50,1.00 5.20,1.30 6.00,1.30 6.60,1.00 6.90,0.50 7.00,0.00 7.00,0.00 6.90,-0.50 6.60,-1.00 6.00,-1.30 5.20,-1.30 4.50,-1.00 4.10,-0.50" fill="#fff" opacity="1.000" filter="url(#b02)"/><rect x="8.20" y="-3.3" width="2.30" height="6.6" fill="#000" opacity="0.25" filter="url(#spk)"/></g><polygon points="-1.00,1.20 0.00,0.95 0.70,0.56 1.30,0.27 2.00,0.19 3.00,0.19 3.40,0.36 3.90,0.70 4.50,1.05 4.50,0.00 4.50,0.00 4.50,-1.05 3.90,-0.70 3.40,-0.36 3.00,-0.19 2.00,-0.19 1.30,-0.27 0.70,-0.56 0.00,-0.95 -1.00,-1.20" fill="#fff" opacity="1.000" filter="url(#b02)"/></g></g><ellipse cx="59.27" cy="207.60" rx="12.7" ry="12.0" fill="none" stroke="#fff" stroke-width="1.05"/></g><text x="225.1" y="182.4" font-family="Liberation Sans, sans-serif" font-weight="bold" font-size="12.4" fill="#fff" text-anchor="end" textLength="33.3" lengthAdjust="spacingAndGlyphs">n=1.6</text><rect x="235.00" y="169.40" width="4.8" height="76.40" fill="url(#cb)"/><text x="241.3" y="172.4" font-family="Liberation Sans, sans-serif" font-weight="bold" font-size="6.6" fill="#111" stroke="#111" stroke-width="0.28">0.3</text><text x="241.3" y="186.5" font-family="Liberation Sans, sans-serif" font-weight="bold" font-size="6.6" fill="#111" stroke="#111" stroke-width="0.28">0.25</text><text x="241.3" y="200.6" font-family="Liberation Sans, sans-serif" font-weight="bold" font-size="6.6" fill="#111" stroke="#111" stroke-width="0.28">0.2</text><text x="241.3" y="214.8" font-family="Liberation Sans, sans-serif" font-weight="bold" font-size="6.6" fill="#111" stroke="#111" stroke-width="0.28">0.15</text><text x="241.3" y="228.9" font-family="Liberation Sans, sans-serif" font-weight="bold" font-size="6.6" fill="#111" stroke="#111" stroke-width="0.28">0.1</text><text x="241.3" y="243.0" font-family="Liberation Sans, sans-serif" font-weight="bold" font-size="6.6" fill="#111" stroke="#111" stroke-width="0.28">0.05</text><text x="25.2" y="172.5" font-family="Liberation Sans, sans-serif" font-weight="bold" font-size="8.1" fill="#111" stroke="#111" stroke-width="0.28" text-anchor="end">10</text><text x="25.2" y="191.4" font-family="Liberation Sans, sans-serif" font-weight="bold" font-size="8.1" fill="#111" stroke="#111" stroke-width="0.28" text-anchor="end">5</text><text x="25.2" y="210.3" font-family="Liberation Sans, sans-serif" font-weight="bold" font-size="8.1" fill="#111" stroke="#111" stroke-width="0.28" text-anchor="end">0</text><text x="25.2" y="229.2" font-family="Liberation Sans, sans-serif" font-weight="bold" font-size="8.1" fill="#111" stroke="#111" stroke-width="0.28" text-anchor="end">-5</text><text x="25.2" y="248.1" font-family="Liberation Sans, sans-serif" font-weight="bold" font-size="8.1" fill="#111" stroke="#111" stroke-width="0.28" text-anchor="end">-10</text><text transform="translate(12.4 207.6) rotate(-90)" font-family="Liberation Sans, sans-serif" font-weight="bold" font-size="8.3" fill="#111" stroke="#111" stroke-width="0.28" text-anchor="middle">z(µm)</text><clipPath id="cn1_7"><rect x="27.40" y="260.40" width="202.60" height="76.20"/></clipPath><g clip-path="url(#cn1_7)"><g filter="url(#jet)"><rect x="22.40" y="255.40" width="212.60" height="86.20" fill="#020202"/><g transform="translate(29.80 298.50) scale(4.010 -3.810)"><polygon points="8.50,0.50 52.00,1.50 52.00,14.00 8.50,3.50" fill="url(#w17c)" filter="url(#b2)"/><polygon points="8.50,-0.50 52.00,-1.50 52.00,-14.00 8.50,-3.50" fill="url(#w17c)" filter="url(#b2)"/><polygon points="8.50,0.40 52.00,2.50 52.00,9.00 8.50,3.00" fill="url(#w17a)" filter="url(#b07)"/><polygon points="8.50,-0.40 52.00,-2.50 52.00,-9.00 8.50,-3.00" fill="url(#w17a)" filter="url(#b07)"/><polygon points="8.50,1.20 52.00,4.00 52.00,7.00 8.50,2.50" fill="url(#w17b)" filter="url(#b1)"/><polygon points="8.50,-1.20 52.00,-4.00 52.00,-7.00 8.50,-2.50" fill="url(#w17b)" filter="url(#b1)"/><use href="#gsL" transform="translate(8.60 2.60) rotate(24.0) scale(1.20 0.80)" opacity="0.220"/><use href="#gsR" transform="translate(8.60 2.60) rotate(24.0) scale(9.00 0.80)" opacity="0.220"/><use href="#gsL" transform="translate(8.60 -2.60) rotate(-24.0) scale(1.20 0.80)" opacity="0.220"/><use href="#gsR" transform="translate(8.60 -2.60) rotate(-24.0) scale(9.00 0.80)" opacity="0.220"/><use href="#gsL" transform="translate(9.20 2.00) rotate(17.0) scale(1.20 0.80)" opacity="0.200"/><use href="#gsR" transform="translate(9.20 2.00) rotate(17.0) scale(13.00 0.80)" opacity="0.200"/><use href="#gsL" transform="translate(9.20 -2.00) rotate(-17.0) scale(1.20 0.80)" opacity="0.200"/><use href="#gsR" transform="translate(9.20 -2.00) rotate(-17.0) scale(13.00 0.80)" opacity="0.200"/><use href="#gsL" transform="translate(9.90 1.20) rotate(9.0) scale(1.20 0.80)" opacity="0.220"/><use href="#gsR" transform="translate(9.90 1.20) rotate(9.0) scale(13.00 0.80)" opacity="0.220"/><use href="#gsL" transform="translate(9.90 -1.20) rotate(-9.0) scale(1.20 0.80)" opacity="0.220"/><use href="#gsR" transform="translate(9.90 -1.20) rotate(-9.0) scale(13.00 0.80)" opacity="0.220"/><use href="#gsL" transform="translate(10.20 0.40) rotate(3.0) scale(1.20 0.50)" opacity="0.200"/><use href="#gsR" transform="translate(10.20 0.40) rotate(3.0) scale(8.00 0.50)" opacity="0.200"/><use href="#gsL" transform="translate(10.20 -0.40) rotate(-3.0) scale(1.20 0.50)" opacity="0.200"/><use href="#gsR" transform="translate(10.20 -0.40) rotate(-3.0) scale(8.00 0.50)" opacity="0.200"/><use href="#gsL" transform="translate(8.00 2.90) rotate(33.0) scale(1.20 0.80)" opacity="0.080"/><use href="#gsR" transform="translate(8.00 2.90) rotate(33.0) scale(8.00 0.80)" opacity="0.080"/><use href="#gsL" transform="translate(8.00 -2.90) rotate(-33.0) scale(1.20 0.80)" opacity="0.080"/><use href="#gsR" transform="translate(8.00 -2.90) rotate(-33.0) scale(8.00 0.80)" opacity="0.080"/><use href="#gsC" transform="translate(12.50 0.00) scale(1.00 0.35)" opacity="0.450"/><line x1="2.68" y1="0.99" x2="1.96" y2="6.82" stroke="#fff" stroke-width="0.20" opacity="0.057" stroke-linecap="round" filter="url(#b02)"/><line x1="2.68" y1="-0.99" x2="1.96" y2="-6.82" stroke="#fff" stroke-width="0.20" opacity="0.057" stroke-linecap="round" filter="url(#b02)"/><line x1="2.58" y1="0.97" x2="1.08" y2="7.43" stroke="#fff" stroke-width="0.20" opacity="0.088" stroke-linecap="round" filter="url(#b02)"/><line x1="2.58" y1="-0.97" x2="1.08" y2="-7.43" stroke="#fff" stroke-width="0.20" opacity="0.088" stroke-linecap="round" filter="url(#b02)"/><line x1="2.47" y1="0.95" x2="0.64" y2="6.26" stroke="#fff" stroke-width="0.20" opacity="0.047" stroke-linecap="round" filter="url(#b02)"/><line x1="2.47" y1="-0.95" x2="0.64" y2="-6.26" stroke="#fff" stroke-width="0.20" opacity="0.047" stroke-linecap="round" filter="url(#b02)"/><line x1="2.38" y1="0.91" x2="-0.53" y2="7.14" stroke="#fff" stroke-width="0.20" opacity="0.099" stroke-linecap="round" filter="url(#b02)"/><line x1="2.38" y1="-0.91" x2="-0.53" y2="-7.14" stroke="#fff" stroke-width="0.20" opacity="0.099" stroke-linecap="round" filter="url(#b02)"/><line x1="2.28" y1="0.86" x2="-0.81" y2="6.00" stroke="#fff" stroke-width="0.20" opacity="0.062" stroke-linecap="round" filter="url(#b02)"/><line x1="2.28" y1="-0.86" x2="-0.81" y2="-6.00" stroke="#fff" stroke-width="0.20" opacity="0.062" stroke-linecap="round" filter="url(#b02)"/><line x1="2.20" y1="0.80" x2="-2.01" y2="6.39" stroke="#fff" stroke-width="0.20" opacity="0.104" stroke-linecap="round" filter="url(#b02)"/><line x1="2.20" y1="-0.80" x2="-2.01" y2="-6.39" stroke="#fff" stroke-width="0.20" opacity="0.104" stroke-linecap="round" filter="url(#b02)"/><line x1="2.12" y1="0.73" x2="-1.89" y2="5.03" stroke="#fff" stroke-width="0.20" opacity="0.057" stroke-linecap="round" filter="url(#b02)"/><line x1="2.12" y1="-0.73" x2="-1.89" y2="-5.03" stroke="#fff" stroke-width="0.20" opacity="0.057" stroke-linecap="round" filter="url(#b02)"/><line x1="2.05" y1="0.66" x2="-2.95" y2="5.00" stroke="#fff" stroke-width="0.20" opacity="0.088" stroke-linecap="round" filter="url(#b02)"/><line x1="2.05" y1="-0.66" x2="-2.95" y2="-5.00" stroke="#fff" stroke-width="0.20" opacity="0.088" stroke-linecap="round" filter="url(#b02)"/><line x1="1.98" y1="0.57" x2="-2.63" y2="3.80" stroke="#fff" stroke-width="0.20" opacity="0.047" stroke-linecap="round" filter="url(#b02)"/><line x1="1.98" y1="-0.57" x2="-2.63" y2="-3.80" stroke="#fff" stroke-width="0.20" opacity="0.047" stroke-linecap="round" filter="url(#b02)"/><line x1="1.93" y1="0.48" x2="-4.09" y2="3.82" stroke="#fff" stroke-width="0.20" opacity="0.099" stroke-linecap="round" filter="url(#b02)"/><line x1="1.93" y1="-0.48" x2="-4.09" y2="-3.82" stroke="#fff" stroke-width="0.20" opacity="0.099" stroke-linecap="round" filter="url(#b02)"/><line x1="1.88" y1="0.39" x2="-3.64" y2="2.74" stroke="#fff" stroke-width="0.20" opacity="0.062" stroke-linecap="round" filter="url(#b02)"/><line x1="1.88" y1="-0.39" x2="-3.64" y2="-2.74" stroke="#fff" stroke-width="0.20" opacity="0.062" stroke-linecap="round" filter="url(#b02)"/><line x1="1.84" y1="0.29" x2="-4.85" y2="2.34" stroke="#fff" stroke-width="0.20" opacity="0.104" stroke-linecap="round" filter="url(#b02)"/><line x1="1.84" y1="-0.29" x2="-4.85" y2="-2.34" stroke="#fff" stroke-width="0.20" opacity="0.104" stroke-linecap="round" filter="url(#b02)"/><line x1="1.82" y1="0.19" x2="-3.95" y2="1.31" stroke="#fff" stroke-width="0.20" opacity="0.057" stroke-linecap="round" filter="url(#b02)"/><line x1="1.82" y1="-0.19" x2="-3.95" y2="-1.31" stroke="#fff" stroke-width="0.20" opacity="0.057" stroke-linecap="round" filter="url(#b02)"/><line x1="3.68" y1="0.47" x2="7.77" y2="2.64" stroke="#fff" stroke-width="0.20" opacity="0.075" stroke-linecap="round" filter="url(#b02)"/><line x1="3.68" y1="-0.47" x2="7.77" y2="-2.64" stroke="#fff" stroke-width="0.20" opacity="0.075" stroke-linecap="round" filter="url(#b02)"/><line x1="3.62" y1="0.57" x2="6.59" y2="2.65" stroke="#fff" stroke-width="0.20" opacity="0.040" stroke-linecap="round" filter="url(#b02)"/><line x1="3.62" y1="-0.57" x2="6.59" y2="-2.65" stroke="#fff" stroke-width="0.20" opacity="0.040" stroke-linecap="round" filter="url(#b02)"/><line x1="3.54" y1="0.67" x2="7.17" y2="3.93" stroke="#fff" stroke-width="0.20" opacity="0.084" stroke-linecap="round" filter="url(#b02)"/><line x1="3.54" y1="-0.67" x2="7.17" y2="-3.93" stroke="#fff" stroke-width="0.20" opacity="0.084" stroke-linecap="round" filter="url(#b02)"/><line x1="3.46" y1="0.75" x2="6.08" y2="3.77" stroke="#fff" stroke-width="0.20" opacity="0.053" stroke-linecap="round" filter="url(#b02)"/><line x1="3.46" y1="-0.75" x2="6.08" y2="-3.77" stroke="#fff" stroke-width="0.20" opacity="0.053" stroke-linecap="round" filter="url(#b02)"/><line x1="3.36" y1="0.83" x2="6.16" y2="4.97" stroke="#fff" stroke-width="0.20" opacity="0.088" stroke-linecap="round" filter="url(#b02)"/><line x1="3.36" y1="-0.83" x2="6.16" y2="-4.97" stroke="#fff" stroke-width="0.20" opacity="0.088" stroke-linecap="round" filter="url(#b02)"/><line x1="3.25" y1="0.89" x2="5.01" y2="4.34" stroke="#fff" stroke-width="0.20" opacity="0.048" stroke-linecap="round" filter="url(#b02)"/><line x1="3.25" y1="-0.89" x2="5.01" y2="-4.34" stroke="#fff" stroke-width="0.20" opacity="0.048" stroke-linecap="round" filter="url(#b02)"/><line x1="3.14" y1="0.94" x2="4.72" y2="5.29" stroke="#fff" stroke-width="0.20" opacity="0.075" stroke-linecap="round" filter="url(#b02)"/><line x1="3.14" y1="-0.94" x2="4.72" y2="-5.29" stroke="#fff" stroke-width="0.20" opacity="0.075" stroke-linecap="round" filter="url(#b02)"/><line x1="3.02" y1="0.97" x2="3.84" y2="4.51" stroke="#fff" stroke-width="0.20" opacity="0.040" stroke-linecap="round" filter="url(#b02)"/><line x1="3.02" y1="-0.97" x2="3.84" y2="-4.51" stroke="#fff" stroke-width="0.20" opacity="0.040" stroke-linecap="round" filter="url(#b02)"/><line x1="2.90" y1="0.99" x2="3.41" y2="5.84" stroke="#fff" stroke-width="0.20" opacity="0.084" stroke-linecap="round" filter="url(#b02)"/><line x1="2.90" y1="-0.99" x2="3.41" y2="-5.84" stroke="#fff" stroke-width="0.20" opacity="0.084" stroke-linecap="round" filter="url(#b02)"/><use href="#gsC" transform="translate(2.80 0.00) scale(3.40 2.80)" opacity="0.144"/><polygon points="-1.00,1.38 0.00,1.10 0.70,0.68 1.30,0.36 2.00,0.26 3.00,0.26 3.40,0.44 3.90,0.80 4.60,1.15 4.60,0.00 4.60,0.00 4.60,-1.15 3.90,-0.80 3.40,-0.44 3.00,-0.26 2.00,-0.26 1.30,-0.36 0.70,-0.68 0.00,-1.10 -1.00,-1.38" fill="#fff" opacity="0.300" filter="url(#b1)"/><polygon points="-1.00,1.38 0.00,1.10 0.70,0.68 1.30,0.36 2.00,0.26 3.00,0.26 3.40,0.44 3.90,0.80 4.60,1.15 4.60,0.00 4.60,0.00 4.60,-1.15 3.90,-0.80 3.40,-0.44 3.00,-0.26 2.00,-0.26 1.30,-0.36 0.70,-0.68 0.00,-1.10 -1.00,-1.38" fill="#fff" opacity="0.675" filter="url(#b04)"/><polygon points="-1.00,1.38 0.00,1.10 0.70,0.68 1.30,0.36 2.00,0.26 3.00,0.26 3.40,0.44 3.90,0.80 4.60,1.15 4.60,0.00 4.60,0.00 4.60,-1.15 3.90,-0.80 3.40,-0.44 3.00,-0.26 2.00,-0.26 1.30,-0.36 0.70,-0.68 0.00,-1.10 -1.00,-1.38" fill="#fff" opacity="0.400" filter="url(#b02)"/><g clip-path="url(#sph)"><circle r="1" fill="url(#rg2)" transform="translate(6.00 0.00) scale(4.30 4.30)"/><polygon points="4.10,0.50 4.50,1.00 5.20,1.30 6.00,1.30 6.80,0.90 7.20,0.40 7.40,0.00 7.40,0.00 7.20,-0.40 6.80,-0.90 6.00,-1.30 5.20,-1.30 4.50,-1.00 4.10,-0.50" fill="#fff" opacity="1.000" filter="url(#b02)"/><rect x="8.20" y="-3.3" width="2.30" height="6.6" fill="#000" opacity="0.30" filter="url(#spk)"/></g><polygon points="-1.00,1.20 0.00,0.95 0.70,0.56 1.30,0.27 2.00,0.19 3.00,0.19 3.40,0.36 3.90,0.70 4.50,1.05 4.50,0.00 4.50,0.00 4.50,-1.05 3.90,-0.70 3.40,-0.36 3.00,-0.19 2.00,-0.19 1.30,-0.27 0.70,-0.56 0.00,-0.95 -1.00,-1.20" fill="#fff" opacity="1.000" filter="url(#b02)"/></g></g><ellipse cx="59.27" cy="298.50" rx="12.7" ry="12.0" fill="none" stroke="#fff" stroke-width="1.05"/></g><text x="224.5" y="273.2" font-family="Liberation Sans, sans-serif" font-weight="bold" font-size="12.4" fill="#fff" text-anchor="end" textLength="32.7" lengthAdjust="spacingAndGlyphs">n=1.7</text><rect x="235.00" y="260.40" width="4.8" height="76.20" fill="url(#cb)"/><text x="241.3" y="263.4" font-family="Liberation Sans, sans-serif" font-weight="bold" font-size="6.6" fill="#111" stroke="#111" stroke-width="0.28">0.3</text><text x="241.3" y="277.5" font-family="Liberation Sans, sans-serif" font-weight="bold" font-size="6.6" fill="#111" stroke="#111" stroke-width="0.28">0.25</text><text x="241.3" y="291.6" font-family="Liberation Sans, sans-serif" font-weight="bold" font-size="6.6" fill="#111" stroke="#111" stroke-width="0.28">0.2</text><text x="241.3" y="305.6" font-family="Liberation Sans, sans-serif" font-weight="bold" font-size="6.6" fill="#111" stroke="#111" stroke-width="0.28">0.15</text><text x="241.3" y="319.7" font-family="Liberation Sans, sans-serif" font-weight="bold" font-size="6.6" fill="#111" stroke="#111" stroke-width="0.28">0.1</text><text x="241.3" y="333.8" font-family="Liberation Sans, sans-serif" font-weight="bold" font-size="6.6" fill="#111" stroke="#111" stroke-width="0.28">0.05</text><text x="25.2" y="263.5" font-family="Liberation Sans, sans-serif" font-weight="bold" font-size="8.1" fill="#111" stroke="#111" stroke-width="0.28" text-anchor="end">10</text><text x="25.2" y="282.3" font-family="Liberation Sans, sans-serif" font-weight="bold" font-size="8.1" fill="#111" stroke="#111" stroke-width="0.28" text-anchor="end">5</text><text x="25.2" y="301.2" font-family="Liberation Sans, sans-serif" font-weight="bold" font-size="8.1" fill="#111" stroke="#111" stroke-width="0.28" text-anchor="end">0</text><text x="25.2" y="320.0" font-family="Liberation Sans, sans-serif" font-weight="bold" font-size="8.1" fill="#111" stroke="#111" stroke-width="0.28" text-anchor="end">-5</text><text x="25.2" y="338.9" font-family="Liberation Sans, sans-serif" font-weight="bold" font-size="8.1" fill="#111" stroke="#111" stroke-width="0.28" text-anchor="end">-10</text><text transform="translate(12.4 298.5) rotate(-90)" font-family="Liberation Sans, sans-serif" font-weight="bold" font-size="8.3" fill="#111" stroke="#111" stroke-width="0.28" text-anchor="middle">z(µm)</text><clipPath id="cn1_76"><rect x="27.40" y="350.40" width="202.60" height="76.10"/></clipPath><g clip-path="url(#cn1_76)"><g filter="url(#jet)"><rect x="22.40" y="345.40" width="212.60" height="86.10" fill="#020202"/><g transform="translate(29.80 388.45) scale(4.010 -3.805)"><polygon points="8.50,0.50 52.00,0.80 52.00,11.00 8.50,3.50" fill="url(#w176c)" filter="url(#b2)"/><polygon points="8.50,-0.50 52.00,-0.80 52.00,-11.00 8.50,-3.50" fill="url(#w176c)" filter="url(#b2)"/><polygon points="8.50,0.35 52.00,1.30 52.00,7.50 8.50,3.00" fill="url(#w176a)" filter="url(#b07)"/><polygon points="8.50,-0.35 52.00,-1.30 52.00,-7.50 8.50,-3.00" fill="url(#w176a)" filter="url(#b07)"/><polygon points="8.50,1.00 52.00,2.50 52.00,5.00 8.50,2.50" fill="url(#w176b)" filter="url(#b1)"/><polygon points="8.50,-1.00 52.00,-2.50 52.00,-5.00 8.50,-2.50" fill="url(#w176b)" filter="url(#b1)"/><use href="#gsDL" transform="translate(21.00 0.00) scale(6.00 1.30)" opacity="0.600"/><use href="#gsDR" transform="translate(21.00 0.00) scale(11.00 1.30)" opacity="0.600"/><use href="#gsL" transform="translate(42.00 0.00) scale(12.00 1.80)" opacity="0.090"/><use href="#gsR" transform="translate(42.00 0.00) scale(14.00 1.80)" opacity="0.090"/><use href="#gsL" transform="translate(8.60 2.60) rotate(25.0) scale(1.20 0.80)" opacity="0.220"/><use href="#gsR" transform="translate(8.60 2.60) rotate(25.0) scale(8.00 0.80)" opacity="0.220"/><use href="#gsL" transform="translate(8.60 -2.60) rotate(-25.0) scale(1.20 0.80)" opacity="0.220"/><use href="#gsR" transform="translate(8.60 -2.60) rotate(-25.0) scale(8.00 0.80)" opacity="0.220"/><use href="#gsL" transform="translate(9.20 2.00) rotate(17.0) scale(1.20 0.80)" opacity="0.200"/><use href="#gsR" transform="translate(9.20 2.00) rotate(17.0) scale(12.00 0.80)" opacity="0.200"/><use href="#gsL" transform="translate(9.20 -2.00) rotate(-17.0) scale(1.20 0.80)" opacity="0.200"/><use href="#gsR" transform="translate(9.20 -2.00) rotate(-17.0) scale(12.00 0.80)" opacity="0.200"/><use href="#gsL" transform="translate(9.90 1.20) rotate(9.0) scale(1.20 0.80)" opacity="0.220"/><use href="#gsR" transform="translate(9.90 1.20) rotate(9.0) scale(12.00 0.80)" opacity="0.220"/><use href="#gsL" transform="translate(9.90 -1.20) rotate(-9.0) scale(1.20 0.80)" opacity="0.220"/><use href="#gsR" transform="translate(9.90 -1.20) rotate(-9.0) scale(12.00 0.80)" opacity="0.220"/><use href="#gsL" transform="translate(10.20 0.40) rotate(3.0) scale(1.20 0.50)" opacity="0.200"/><use href="#gsR" transform="translate(10.20 0.40) rotate(3.0) scale(8.00 0.50)" opacity="0.200"/><use href="#gsL" transform="translate(10.20 -0.40) rotate(-3.0) scale(1.20 0.50)" opacity="0.200"/><use href="#gsR" transform="translate(10.20 -0.40) rotate(-3.0) scale(8.00 0.50)" opacity="0.200"/><use href="#gsL" transform="translate(8.00 2.90) rotate(34.0) scale(1.20 0.80)" opacity="0.080"/><use href="#gsR" transform="translate(8.00 2.90) rotate(34.0) scale(8.00 0.80)" opacity="0.080"/><use href="#gsL" transform="translate(8.00 -2.90) rotate(-34.0) scale(1.20 0.80)" opacity="0.080"/><use href="#gsR" transform="translate(8.00 -2.90) rotate(-34.0) scale(8.00 0.80)" opacity="0.080"/><use href="#gsC" transform="translate(12.30 0.00) scale(1.00 0.35)" opacity="0.500"/><line x1="2.68" y1="0.99" x2="1.96" y2="6.82" stroke="#fff" stroke-width="0.20" opacity="0.057" stroke-linecap="round" filter="url(#b02)"/><line x1="2.68" y1="-0.99" x2="1.96" y2="-6.82" stroke="#fff" stroke-width="0.20" opacity="0.057" stroke-linecap="round" filter="url(#b02)"/><line x1="2.58" y1="0.97" x2="1.08" y2="7.43" stroke="#fff" stroke-width="0.20" opacity="0.088" stroke-linecap="round" filter="url(#b02)"/><line x1="2.58" y1="-0.97" x2="1.08" y2="-7.43" stroke="#fff" stroke-width="0.20" opacity="0.088" stroke-linecap="round" filter="url(#b02)"/><line x1="2.47" y1="0.95" x2="0.64" y2="6.26" stroke="#fff" stroke-width="0.20" opacity="0.047" stroke-linecap="round" filter="url(#b02)"/><line x1="2.47" y1="-0.95" x2="0.64" y2="-6.26" stroke="#fff" stroke-width="0.20" opacity="0.047" stroke-linecap="round" filter="url(#b02)"/><line x1="2.38" y1="0.91" x2="-0.53" y2="7.14" stroke="#fff" stroke-width="0.20" opacity="0.099" stroke-linecap="round" filter="url(#b02)"/><line x1="2.38" y1="-0.91" x2="-0.53" y2="-7.14" stroke="#fff" stroke-width="0.20" opacity="0.099" stroke-linecap="round" filter="url(#b02)"/><line x1="2.28" y1="0.86" x2="-0.81" y2="6.00" stroke="#fff" stroke-width="0.20" opacity="0.062" stroke-linecap="round" filter="url(#b02)"/><line x1="2.28" y1="-0.86" x2="-0.81" y2="-6.00" stroke="#fff" stroke-width="0.20" opacity="0.062" stroke-linecap="round" filter="url(#b02)"/><line x1="2.20" y1="0.80" x2="-2.01" y2="6.39" stroke="#fff" stroke-width="0.20" opacity="0.104" stroke-linecap="round" filter="url(#b02)"/><line x1="2.20" y1="-0.80" x2="-2.01" y2="-6.39" stroke="#fff" stroke-width="0.20" opacity="0.104" stroke-linecap="round" filter="url(#b02)"/><line x1="2.12" y1="0.73" x2="-1.89" y2="5.03" stroke="#fff" stroke-width="0.20" opacity="0.057" stroke-linecap="round" filter="url(#b02)"/><line x1="2.12" y1="-0.73" x2="-1.89" y2="-5.03" stroke="#fff" stroke-width="0.20" opacity="0.057" stroke-linecap="round" filter="url(#b02)"/><line x1="2.05" y1="0.66" x2="-2.95" y2="5.00" stroke="#fff" stroke-width="0.20" opacity="0.088" stroke-linecap="round" filter="url(#b02)"/><line x1="2.05" y1="-0.66" x2="-2.95" y2="-5.00" stroke="#fff" stroke-width="0.20" opacity="0.088" stroke-linecap="round" filter="url(#b02)"/><line x1="1.98" y1="0.57" x2="-2.63" y2="3.80" stroke="#fff" stroke-width="0.20" opacity="0.047" stroke-linecap="round" filter="url(#b02)"/><line x1="1.98" y1="-0.57" x2="-2.63" y2="-3.80" stroke="#fff" stroke-width="0.20" opacity="0.047" stroke-linecap="round" filter="url(#b02)"/><line x1="1.93" y1="0.48" x2="-4.09" y2="3.82" stroke="#fff" stroke-width="0.20" opacity="0.099" stroke-linecap="round" filter="url(#b02)"/><line x1="1.93" y1="-0.48" x2="-4.09" y2="-3.82" stroke="#fff" stroke-width="0.20" opacity="0.099" stroke-linecap="round" filter="url(#b02)"/><line x1="1.88" y1="0.39" x2="-3.64" y2="2.74" stroke="#fff" stroke-width="0.20" opacity="0.062" stroke-linecap="round" filter="url(#b02)"/><line x1="1.88" y1="-0.39" x2="-3.64" y2="-2.74" stroke="#fff" stroke-width="0.20" opacity="0.062" stroke-linecap="round" filter="url(#b02)"/><line x1="1.84" y1="0.29" x2="-4.85" y2="2.34" stroke="#fff" stroke-width="0.20" opacity="0.104" stroke-linecap="round" filter="url(#b02)"/><line x1="1.84" y1="-0.29" x2="-4.85" y2="-2.34" stroke="#fff" stroke-width="0.20" opacity="0.104" stroke-linecap="round" filter="url(#b02)"/><line x1="1.82" y1="0.19" x2="-3.95" y2="1.31" stroke="#fff" stroke-width="0.20" opacity="0.057" stroke-linecap="round" filter="url(#b02)"/><line x1="1.82" y1="-0.19" x2="-3.95" y2="-1.31" stroke="#fff" stroke-width="0.20" opacity="0.057" stroke-linecap="round" filter="url(#b02)"/><line x1="3.68" y1="0.47" x2="7.77" y2="2.64" stroke="#fff" stroke-width="0.20" opacity="0.075" stroke-linecap="round" filter="url(#b02)"/><line x1="3.68" y1="-0.47" x2="7.77" y2="-2.64" stroke="#fff" stroke-width="0.20" opacity="0.075" stroke-linecap="round" filter="url(#b02)"/><line x1="3.62" y1="0.57" x2="6.59" y2="2.65" stroke="#fff" stroke-width="0.20" opacity="0.040" stroke-linecap="round" filter="url(#b02)"/><line x1="3.62" y1="-0.57" x2="6.59" y2="-2.65" stroke="#fff" stroke-width="0.20" opacity="0.040" stroke-linecap="round" filter="url(#b02)"/><line x1="3.54" y1="0.67" x2="7.17" y2="3.93" stroke="#fff" stroke-width="0.20" opacity="0.084" stroke-linecap="round" filter="url(#b02)"/><line x1="3.54" y1="-0.67" x2="7.17" y2="-3.93" stroke="#fff" stroke-width="0.20" opacity="0.084" stroke-linecap="round" filter="url(#b02)"/><line x1="3.46" y1="0.75" x2="6.08" y2="3.77" stroke="#fff" stroke-width="0.20" opacity="0.053" stroke-linecap="round" filter="url(#b02)"/><line x1="3.46" y1="-0.75" x2="6.08" y2="-3.77" stroke="#fff" stroke-width="0.20" opacity="0.053" stroke-linecap="round" filter="url(#b02)"/><line x1="3.36" y1="0.83" x2="6.16" y2="4.97" stroke="#fff" stroke-width="0.20" opacity="0.088" stroke-linecap="round" filter="url(#b02)"/><line x1="3.36" y1="-0.83" x2="6.16" y2="-4.97" stroke="#fff" stroke-width="0.20" opacity="0.088" stroke-linecap="round" filter="url(#b02)"/><line x1="3.25" y1="0.89" x2="5.01" y2="4.34" stroke="#fff" stroke-width="0.20" opacity="0.048" stroke-linecap="round" filter="url(#b02)"/><line x1="3.25" y1="-0.89" x2="5.01" y2="-4.34" stroke="#fff" stroke-width="0.20" opacity="0.048" stroke-linecap="round" filter="url(#b02)"/><line x1="3.14" y1="0.94" x2="4.72" y2="5.29" stroke="#fff" stroke-width="0.20" opacity="0.075" stroke-linecap="round" filter="url(#b02)"/><line x1="3.14" y1="-0.94" x2="4.72" y2="-5.29" stroke="#fff" stroke-width="0.20" opacity="0.075" stroke-linecap="round" filter="url(#b02)"/><line x1="3.02" y1="0.97" x2="3.84" y2="4.51" stroke="#fff" stroke-width="0.20" opacity="0.040" stroke-linecap="round" filter="url(#b02)"/><line x1="3.02" y1="-0.97" x2="3.84" y2="-4.51" stroke="#fff" stroke-width="0.20" opacity="0.040" stroke-linecap="round" filter="url(#b02)"/><line x1="2.90" y1="0.99" x2="3.41" y2="5.84" stroke="#fff" stroke-width="0.20" opacity="0.084" stroke-linecap="round" filter="url(#b02)"/><line x1="2.90" y1="-0.99" x2="3.41" y2="-5.84" stroke="#fff" stroke-width="0.20" opacity="0.084" stroke-linecap="round" filter="url(#b02)"/><use href="#gsC" transform="translate(2.80 0.00) scale(3.40 2.80)" opacity="0.144"/><polygon points="-1.00,1.38 0.00,1.10 0.70,0.68 1.30,0.36 2.00,0.26 3.00,0.26 3.40,0.44 3.90,0.80 4.60,1.15 4.60,0.00 4.60,0.00 4.60,-1.15 3.90,-0.80 3.40,-0.44 3.00,-0.26 2.00,-0.26 1.30,-0.36 0.70,-0.68 0.00,-1.10 -1.00,-1.38" fill="#fff" opacity="0.300" filter="url(#b1)"/><polygon points="-1.00,1.38 0.00,1.10 0.70,0.68 1.30,0.36 2.00,0.26 3.00,0.26 3.40,0.44 3.90,0.80 4.60,1.15 4.60,0.00 4.60,0.00 4.60,-1.15 3.90,-0.80 3.40,-0.44 3.00,-0.26 2.00,-0.26 1.30,-0.36 0.70,-0.68 0.00,-1.10 -1.00,-1.38" fill="#fff" opacity="0.675" filter="url(#b04)"/><polygon points="-1.00,1.38 0.00,1.10 0.70,0.68 1.30,0.36 2.00,0.26 3.00,0.26 3.40,0.44 3.90,0.80 4.60,1.15 4.60,0.00 4.60,0.00 4.60,-1.15 3.90,-0.80 3.40,-0.44 3.00,-0.26 2.00,-0.26 1.30,-0.36 0.70,-0.68 0.00,-1.10 -1.00,-1.38" fill="#fff" opacity="0.400" filter="url(#b02)"/><g clip-path="url(#sph)"><circle r="1" fill="url(#rg3)" transform="translate(6.00 0.00) scale(4.30 4.30)"/><polygon points="4.10,0.50 4.50,1.00 5.20,1.30 6.00,1.30 6.80,0.90 7.20,0.40 7.40,0.00 7.40,0.00 7.20,-0.40 6.80,-0.90 6.00,-1.30 5.20,-1.30 4.50,-1.00 4.10,-0.50" fill="#fff" opacity="1.000" filter="url(#b02)"/><rect x="8.20" y="-3.3" width="2.30" height="6.6" fill="#000" opacity="0.30" filter="url(#spk)"/></g><polygon points="-1.00,1.20 0.00,0.95 0.70,0.56 1.30,0.27 2.00,0.19 3.00,0.19 3.40,0.36 3.90,0.70 4.50,1.05 4.50,0.00 4.50,0.00 4.50,-1.05 3.90,-0.70 3.40,-0.36 3.00,-0.19 2.00,-0.19 1.30,-0.27 0.70,-0.56 0.00,-0.95 -1.00,-1.20" fill="#fff" opacity="1.000" filter="url(#b02)"/></g></g><ellipse cx="59.27" cy="388.45" rx="12.7" ry="12.0" fill="none" stroke="#fff" stroke-width="1.05"/></g><text x="226.2" y="363.9" font-family="Liberation Sans, sans-serif" font-weight="bold" font-size="12.4" fill="#fff" text-anchor="end" textLength="40.8" lengthAdjust="spacingAndGlyphs">n=1.76</text><rect x="235.00" y="350.40" width="4.8" height="76.10" fill="url(#cb)"/><text x="241.3" y="353.4" font-family="Liberation Sans, sans-serif" font-weight="bold" font-size="6.6" fill="#111" stroke="#111" stroke-width="0.28">0.3</text><text x="241.3" y="367.5" font-family="Liberation Sans, sans-serif" font-weight="bold" font-size="6.6" fill="#111" stroke="#111" stroke-width="0.28">0.25</text><text x="241.3" y="381.5" font-family="Liberation Sans, sans-serif" font-weight="bold" font-size="6.6" fill="#111" stroke="#111" stroke-width="0.28">0.2</text><text x="241.3" y="395.6" font-family="Liberation Sans, sans-serif" font-weight="bold" font-size="6.6" fill="#111" stroke="#111" stroke-width="0.28">0.15</text><text x="241.3" y="409.7" font-family="Liberation Sans, sans-serif" font-weight="bold" font-size="6.6" fill="#111" stroke="#111" stroke-width="0.28">0.1</text><text x="241.3" y="423.7" font-family="Liberation Sans, sans-serif" font-weight="bold" font-size="6.6" fill="#111" stroke="#111" stroke-width="0.28">0.05</text><text x="25.2" y="353.5" font-family="Liberation Sans, sans-serif" font-weight="bold" font-size="8.1" fill="#111" stroke="#111" stroke-width="0.28" text-anchor="end">10</text><text x="25.2" y="372.3" font-family="Liberation Sans, sans-serif" font-weight="bold" font-size="8.1" fill="#111" stroke="#111" stroke-width="0.28" text-anchor="end">5</text><text x="25.2" y="391.1" font-family="Liberation Sans, sans-serif" font-weight="bold" font-size="8.1" fill="#111" stroke="#111" stroke-width="0.28" text-anchor="end">0</text><text x="25.2" y="410.0" font-family="Liberation Sans, sans-serif" font-weight="bold" font-size="8.1" fill="#111" stroke="#111" stroke-width="0.28" text-anchor="end">-5</text><text x="25.2" y="428.8" font-family="Liberation Sans, sans-serif" font-weight="bold" font-size="8.1" fill="#111" stroke="#111" stroke-width="0.28" text-anchor="end">-10</text><text transform="translate(12.4 388.4) rotate(-90)" font-family="Liberation Sans, sans-serif" font-weight="bold" font-size="8.3" fill="#111" stroke="#111" stroke-width="0.28" text-anchor="middle">z(µm)</text><clipPath id="cn1_9"><rect x="27.40" y="440.60" width="202.60" height="76.00"/></clipPath><g clip-path="url(#cn1_9)"><g filter="url(#jet)"><rect x="22.40" y="435.60" width="212.60" height="86.00" fill="#020202"/><g transform="translate(29.80 478.60) scale(4.010 -3.800)"><use href="#gsL" transform="translate(24.00 0.00) scale(13.00 5.00)" opacity="0.220"/><use href="#gsR" transform="translate(24.00 0.00) scale(48.00 5.00)" opacity="0.220"/><polygon points="26.00,1.00 52.00,1.30 52.00,4.20 26.00,2.40" fill="url(#w19t)" filter="url(#b07)"/><polygon points="26.00,-1.00 52.00,-1.30 52.00,-4.20 26.00,-2.40" fill="url(#w19t)" filter="url(#b07)"/><polygon points="10.00,1.80 52.00,2.80 52.00,7.00 10.00,3.00" fill="url(#w19s)" filter="url(#b07)"/><polygon points="10.00,-1.80 52.00,-2.80 52.00,-7.00 10.00,-3.00" fill="url(#w19s)" filter="url(#b07)"/><use href="#gsL" transform="translate(9.60 2.50) rotate(9.0) scale(1.20 0.70)" opacity="0.200"/><use href="#gsR" transform="translate(9.60 2.50) rotate(9.0) scale(15.00 0.70)" opacity="0.200"/><use href="#gsL" transform="translate(9.60 -2.50) rotate(-9.0) scale(1.20 0.70)" opacity="0.200"/><use href="#gsR" transform="translate(9.60 -2.50) rotate(-9.0) scale(15.00 0.70)" opacity="0.200"/><use href="#gsL" transform="translate(9.30 2.80) rotate(17.0) scale(1.20 0.60)" opacity="0.140"/><use href="#gsR" transform="translate(9.30 2.80) rotate(17.0) scale(10.00 0.60)" opacity="0.140"/><use href="#gsL" transform="translate(9.30 -2.80) rotate(-17.0) scale(1.20 0.60)" opacity="0.140"/><use href="#gsR" transform="translate(9.30 -2.80) rotate(-17.0) scale(10.00 0.60)" opacity="0.140"/><use href="#gsL" transform="translate(8.80 3.00) rotate(28.0) scale(1.05 0.50)" opacity="0.100"/><use href="#gsR" transform="translate(8.80 3.00) rotate(28.0) scale(7.00 0.50)" opacity="0.100"/><use href="#gsL" transform="translate(8.80 -3.00) rotate(-28.0) scale(1.05 0.50)" opacity="0.100"/><use href="#gsR" transform="translate(8.80 -3.00) rotate(-28.0) scale(7.00 0.50)" opacity="0.100"/><use href="#gfC" transform="translate(13.60 0.00) scale(4.60 2.50)" opacity="0.360"/><path d="M0.030,-1L0,-1A1,1 0 0 0 0,1L0.030,1Z" fill="url(#mg4)" transform="translate(26.00 0.00) scale(10.00 3.10)" style="mix-blend-mode:lighten"/><path d="M0,-1A1,1 0 0 1 0,1Z" fill="url(#mg4)" transform="translate(26.00 0.00) scale(32.00 3.10)" style="mix-blend-mode:lighten"/><path d="M0.065,-1L0,-1A1,1 0 0 0 0,1L0.065,1Z" fill="url(#mg5)" transform="translate(21.20 0.00) scale(4.60 1.30)" style="mix-blend-mode:lighten"/><path d="M0,-1A1,1 0 0 1 0,1Z" fill="url(#mg5)" transform="translate(21.20 0.00) scale(13.20 1.30)" style="mix-blend-mode:lighten"/><path d="M0.300,-1L0,-1A1,1 0 0 0 0,1L0.300,1Z" fill="url(#mg6)" transform="translate(9.80 1.70) rotate(-6.5) scale(1.00 0.70)" style="mix-blend-mode:lighten"/><path d="M0,-1A1,1 0 0 1 0,1Z" fill="url(#mg6)" transform="translate(9.80 1.70) rotate(-6.5) scale(9.50 0.70)" style="mix-blend-mode:lighten"/><path d="M0.300,-1L0,-1A1,1 0 0 0 0,1L0.300,1Z" fill="url(#mg7)" transform="translate(9.80 -1.70) rotate(6.5) scale(1.00 0.70)" style="mix-blend-mode:lighten"/><path d="M0,-1A1,1 0 0 1 0,1Z" fill="url(#mg7)" transform="translate(9.80 -1.70) rotate(6.5) scale(9.50 0.70)" style="mix-blend-mode:lighten"/><use href="#gsD" transform="translate(14.00 0.00) scale(0.90 0.42)" opacity="0.920"/><line x1="2.68" y1="0.99" x2="1.96" y2="6.82" stroke="#fff" stroke-width="0.20" opacity="0.122" stroke-linecap="round" filter="url(#b02)"/><line x1="2.68" y1="-0.99" x2="1.96" y2="-6.82" stroke="#fff" stroke-width="0.20" opacity="0.122" stroke-linecap="round" filter="url(#b02)"/><line x1="2.58" y1="0.97" x2="1.08" y2="7.43" stroke="#fff" stroke-width="0.20" opacity="0.188" stroke-linecap="round" filter="url(#b02)"/><line x1="2.58" y1="-0.97" x2="1.08" y2="-7.43" stroke="#fff" stroke-width="0.20" opacity="0.188" stroke-linecap="round" filter="url(#b02)"/><line x1="2.47" y1="0.95" x2="0.64" y2="6.26" stroke="#fff" stroke-width="0.20" opacity="0.099" stroke-linecap="round" filter="url(#b02)"/><line x1="2.47" y1="-0.95" x2="0.64" y2="-6.26" stroke="#fff" stroke-width="0.20" opacity="0.099" stroke-linecap="round" filter="url(#b02)"/><line x1="2.38" y1="0.91" x2="-0.53" y2="7.14" stroke="#fff" stroke-width="0.20" opacity="0.210" stroke-linecap="round" filter="url(#b02)"/><line x1="2.38" y1="-0.91" x2="-0.53" y2="-7.14" stroke="#fff" stroke-width="0.20" opacity="0.210" stroke-linecap="round" filter="url(#b02)"/><line x1="2.28" y1="0.86" x2="-0.81" y2="6.00" stroke="#fff" stroke-width="0.20" opacity="0.133" stroke-linecap="round" filter="url(#b02)"/><line x1="2.28" y1="-0.86" x2="-0.81" y2="-6.00" stroke="#fff" stroke-width="0.20" opacity="0.133" stroke-linecap="round" filter="url(#b02)"/><line x1="2.20" y1="0.80" x2="-2.01" y2="6.39" stroke="#fff" stroke-width="0.20" opacity="0.221" stroke-linecap="round" filter="url(#b02)"/><line x1="2.20" y1="-0.80" x2="-2.01" y2="-6.39" stroke="#fff" stroke-width="0.20" opacity="0.221" stroke-linecap="round" filter="url(#b02)"/><line x1="2.12" y1="0.73" x2="-1.89" y2="5.03" stroke="#fff" stroke-width="0.20" opacity="0.122" stroke-linecap="round" filter="url(#b02)"/><line x1="2.12" y1="-0.73" x2="-1.89" y2="-5.03" stroke="#fff" stroke-width="0.20" opacity="0.122" stroke-linecap="round" filter="url(#b02)"/><line x1="2.05" y1="0.66" x2="-2.95" y2="5.00" stroke="#fff" stroke-width="0.20" opacity="0.188" stroke-linecap="round" filter="url(#b02)"/><line x1="2.05" y1="-0.66" x2="-2.95" y2="-5.00" stroke="#fff" stroke-width="0.20" opacity="0.188" stroke-linecap="round" filter="url(#b02)"/><line x1="1.98" y1="0.57" x2="-2.63" y2="3.80" stroke="#fff" stroke-width="0.20" opacity="0.099" stroke-linecap="round" filter="url(#b02)"/><line x1="1.98" y1="-0.57" x2="-2.63" y2="-3.80" stroke="#fff" stroke-width="0.20" opacity="0.099" stroke-linecap="round" filter="url(#b02)"/><line x1="1.93" y1="0.48" x2="-4.09" y2="3.82" stroke="#fff" stroke-width="0.20" opacity="0.210" stroke-linecap="round" filter="url(#b02)"/><line x1="1.93" y1="-0.48" x2="-4.09" y2="-3.82" stroke="#fff" stroke-width="0.20" opacity="0.210" stroke-linecap="round" filter="url(#b02)"/><line x1="1.88" y1="0.39" x2="-3.64" y2="2.74" stroke="#fff" stroke-width="0.20" opacity="0.133" stroke-linecap="round" filter="url(#b02)"/><line x1="1.88" y1="-0.39" x2="-3.64" y2="-2.74" stroke="#fff" stroke-width="0.20" opacity="0.133" stroke-linecap="round" filter="url(#b02)"/><line x1="1.84" y1="0.29" x2="-4.85" y2="2.34" stroke="#fff" stroke-width="0.20" opacity="0.221" stroke-linecap="round" filter="url(#b02)"/><line x1="1.84" y1="-0.29" x2="-4.85" y2="-2.34" stroke="#fff" stroke-width="0.20" opacity="0.221" stroke-linecap="round" filter="url(#b02)"/><line x1="1.82" y1="0.19" x2="-3.95" y2="1.31" stroke="#fff" stroke-width="0.20" opacity="0.122" stroke-linecap="round" filter="url(#b02)"/><line x1="1.82" y1="-0.19" x2="-3.95" y2="-1.31" stroke="#fff" stroke-width="0.20" opacity="0.122" stroke-linecap="round" filter="url(#b02)"/><line x1="3.68" y1="0.47" x2="7.77" y2="2.64" stroke="#fff" stroke-width="0.20" opacity="0.159" stroke-linecap="round" filter="url(#b02)"/><line x1="3.68" y1="-0.47" x2="7.77" y2="-2.64" stroke="#fff" stroke-width="0.20" opacity="0.159" stroke-linecap="round" filter="url(#b02)"/><line x1="3.62" y1="0.57" x2="6.59" y2="2.65" stroke="#fff" stroke-width="0.20" opacity="0.084" stroke-linecap="round" filter="url(#b02)"/><line x1="3.62" y1="-0.57" x2="6.59" y2="-2.65" stroke="#fff" stroke-width="0.20" opacity="0.084" stroke-linecap="round" filter="url(#b02)"/><line x1="3.54" y1="0.67" x2="7.17" y2="3.93" stroke="#fff" stroke-width="0.20" opacity="0.178" stroke-linecap="round" filter="url(#b02)"/><line x1="3.54" y1="-0.67" x2="7.17" y2="-3.93" stroke="#fff" stroke-width="0.20" opacity="0.178" stroke-linecap="round" filter="url(#b02)"/><line x1="3.46" y1="0.75" x2="6.08" y2="3.77" stroke="#fff" stroke-width="0.20" opacity="0.112" stroke-linecap="round" filter="url(#b02)"/><line x1="3.46" y1="-0.75" x2="6.08" y2="-3.77" stroke="#fff" stroke-width="0.20" opacity="0.112" stroke-linecap="round" filter="url(#b02)"/><line x1="3.36" y1="0.83" x2="6.16" y2="4.97" stroke="#fff" stroke-width="0.20" opacity="0.187" stroke-linecap="round" filter="url(#b02)"/><line x1="3.36" y1="-0.83" x2="6.16" y2="-4.97" stroke="#fff" stroke-width="0.20" opacity="0.187" stroke-linecap="round" filter="url(#b02)"/><line x1="3.25" y1="0.89" x2="5.01" y2="4.34" stroke="#fff" stroke-width="0.20" opacity="0.103" stroke-linecap="round" filter="url(#b02)"/><line x1="3.25" y1="-0.89" x2="5.01" y2="-4.34" stroke="#fff" stroke-width="0.20" opacity="0.103" stroke-linecap="round" filter="url(#b02)"/><line x1="3.14" y1="0.94" x2="4.72" y2="5.29" stroke="#fff" stroke-width="0.20" opacity="0.159" stroke-linecap="round" filter="url(#b02)"/><line x1="3.14" y1="-0.94" x2="4.72" y2="-5.29" stroke="#fff" stroke-width="0.20" opacity="0.159" stroke-linecap="round" filter="url(#b02)"/><line x1="3.02" y1="0.97" x2="3.84" y2="4.51" stroke="#fff" stroke-width="0.20" opacity="0.084" stroke-linecap="round" filter="url(#b02)"/><line x1="3.02" y1="-0.97" x2="3.84" y2="-4.51" stroke="#fff" stroke-width="0.20" opacity="0.084" stroke-linecap="round" filter="url(#b02)"/><line x1="2.90" y1="0.99" x2="3.41" y2="5.84" stroke="#fff" stroke-width="0.20" opacity="0.178" stroke-linecap="round" filter="url(#b02)"/><line x1="2.90" y1="-0.99" x2="3.41" y2="-5.84" stroke="#fff" stroke-width="0.20" opacity="0.178" stroke-linecap="round" filter="url(#b02)"/><use href="#gsC" transform="translate(2.80 0.00) scale(3.40 2.80)" opacity="0.306"/><polygon points="-1.00,1.38 0.00,1.10 0.70,0.68 1.30,0.36 2.00,0.26 3.00,0.26 3.40,0.44 3.90,0.80 4.60,1.15 4.60,0.00 4.60,0.00 4.60,-1.15 3.90,-0.80 3.40,-0.44 3.00,-0.26 2.00,-0.26 1.30,-0.36 0.70,-0.68 0.00,-1.10 -1.00,-1.38" fill="#fff" opacity="0.300" filter="url(#b1)"/><polygon points="-1.00,1.38 0.00,1.10 0.70,0.68 1.30,0.36 2.00,0.26 3.00,0.26 3.40,0.44 3.90,0.80 4.60,1.15 4.60,0.00 4.60,0.00 4.60,-1.15 3.90,-0.80 3.40,-0.44 3.00,-0.26 2.00,-0.26 1.30,-0.36 0.70,-0.68 0.00,-1.10 -1.00,-1.38" fill="#fff" opacity="0.675" filter="url(#b04)"/><polygon points="-1.00,1.38 0.00,1.10 0.70,0.68 1.30,0.36 2.00,0.26 3.00,0.26 3.40,0.44 3.90,0.80 4.60,1.15 4.60,0.00 4.60,0.00 4.60,-1.15 3.90,-0.80 3.40,-0.44 3.00,-0.26 2.00,-0.26 1.30,-0.36 0.70,-0.68 0.00,-1.10 -1.00,-1.38" fill="#fff" opacity="0.400" filter="url(#b02)"/><g clip-path="url(#sph)"><circle r="1" fill="url(#rg8)" transform="translate(5.60 0.00) scale(4.30 4.30)"/><polygon points="4.10,0.50 4.50,1.10 5.20,1.40 6.00,1.45 6.70,1.20 7.10,0.70 7.25,0.00 7.25,0.00 7.10,-0.70 6.70,-1.20 6.00,-1.45 5.20,-1.40 4.50,-1.10 4.10,-0.50" fill="#fff" opacity="1.000" filter="url(#b02)"/><rect x="8.20" y="-3.3" width="2.30" height="6.6" fill="#000" opacity="0.50" filter="url(#spk3)"/><rect x="8.20" y="-3.3" width="2.30" height="6.6" fill="#fff" opacity="0.30" filter="url(#spk2)"/></g><polygon points="-1.00,1.20 0.00,0.95 0.70,0.56 1.30,0.27 2.00,0.19 3.00,0.19 3.40,0.36 3.90,0.70 4.50,1.05 4.50,0.00 4.50,0.00 4.50,-1.05 3.90,-0.70 3.40,-0.36 3.00,-0.19 2.00,-0.19 1.30,-0.27 0.70,-0.56 0.00,-0.95 -1.00,-1.20" fill="#fff" opacity="1.000" filter="url(#b02)"/></g></g><ellipse cx="59.27" cy="478.60" rx="12.7" ry="12.0" fill="none" stroke="#fff" stroke-width="1.05"/></g><text x="225.2" y="452.3" font-family="Liberation Sans, sans-serif" font-weight="bold" font-size="12.4" fill="#fff" text-anchor="end" textLength="33.7" lengthAdjust="spacingAndGlyphs">n=1.9</text><rect x="235.00" y="440.60" width="4.8" height="76.00" fill="url(#cb)"/><text x="241.3" y="443.6" font-family="Liberation Sans, sans-serif" font-weight="bold" font-size="6.6" fill="#111" stroke="#111" stroke-width="0.28">0.3</text><text x="241.3" y="457.6" font-family="Liberation Sans, sans-serif" font-weight="bold" font-size="6.6" fill="#111" stroke="#111" stroke-width="0.28">0.25</text><text x="241.3" y="471.7" font-family="Liberation Sans, sans-serif" font-weight="bold" font-size="6.6" fill="#111" stroke="#111" stroke-width="0.28">0.2</text><text x="241.3" y="485.7" font-family="Liberation Sans, sans-serif" font-weight="bold" font-size="6.6" fill="#111" stroke="#111" stroke-width="0.28">0.15</text><text x="241.3" y="499.8" font-family="Liberation Sans, sans-serif" font-weight="bold" font-size="6.6" fill="#111" stroke="#111" stroke-width="0.28">0.1</text><text x="241.3" y="513.8" font-family="Liberation Sans, sans-serif" font-weight="bold" font-size="6.6" fill="#111" stroke="#111" stroke-width="0.28">0.05</text><text x="25.2" y="443.7" font-family="Liberation Sans, sans-serif" font-weight="bold" font-size="8.1" fill="#111" stroke="#111" stroke-width="0.28" text-anchor="end">10</text><text x="25.2" y="462.5" font-family="Liberation Sans, sans-serif" font-weight="bold" font-size="8.1" fill="#111" stroke="#111" stroke-width="0.28" text-anchor="end">5</text><text x="25.2" y="481.3" font-family="Liberation Sans, sans-serif" font-weight="bold" font-size="8.1" fill="#111" stroke="#111" stroke-width="0.28" text-anchor="end">0</text><text x="25.2" y="500.1" font-family="Liberation Sans, sans-serif" font-weight="bold" font-size="8.1" fill="#111" stroke="#111" stroke-width="0.28" text-anchor="end">-5</text><text x="25.2" y="518.9" font-family="Liberation Sans, sans-serif" font-weight="bold" font-size="8.1" fill="#111" stroke="#111" stroke-width="0.28" text-anchor="end">-10</text><text transform="translate(12.4 478.6) rotate(-90)" font-family="Liberation Sans, sans-serif" font-weight="bold" font-size="8.3" fill="#111" stroke="#111" stroke-width="0.28" text-anchor="middle">z(µm)</text><text x="29.8" y="527.0" font-family="Liberation Sans, sans-serif" font-weight="bold" font-size="8.1" fill="#111" stroke="#111" stroke-width="0.28" text-anchor="middle">0</text><text x="69.9" y="527.0" font-family="Liberation Sans, sans-serif" font-weight="bold" font-size="8.1" fill="#111" stroke="#111" stroke-width="0.28" text-anchor="middle">10</text><text x="110.0" y="527.0" font-family="Liberation Sans, sans-serif" font-weight="bold" font-size="8.1" fill="#111" stroke="#111" stroke-width="0.28" text-anchor="middle">20</text><text x="150.1" y="527.0" font-family="Liberation Sans, sans-serif" font-weight="bold" font-size="8.1" fill="#111" stroke="#111" stroke-width="0.28" text-anchor="middle">30</text><text x="190.2" y="527.0" font-family="Liberation Sans, sans-serif" font-weight="bold" font-size="8.1" fill="#111" stroke="#111" stroke-width="0.28" text-anchor="middle">40</text><text x="230.3" y="527.0" font-family="Liberation Sans, sans-serif" font-weight="bold" font-size="8.1" fill="#111" stroke="#111" stroke-width="0.28" text-anchor="middle">50</text><text x="127.4" y="536.6" font-family="Liberation Sans, sans-serif" font-weight="bold" font-size="7.8" fill="#111" stroke="#111" stroke-width="0.28" text-anchor="middle">x(µm)</text><clipPath id="cn2"><rect x="284.00" y="215.00" width="202.80" height="76.40"/></clipPath><g clip-path="url(#cn2)"><g filter="url(#jet)"><rect x="279.00" y="210.00" width="212.80" height="86.40" fill="#020202"/><g transform="translate(286.00 253.20) scale(4.020 -3.820)"><use href="#gsL" transform="translate(24.50 0.00) scale(13.00 5.40)" opacity="0.240"/><use href="#gsR" transform="translate(24.50 0.00) scale(52.00 5.40)" opacity="0.240"/><polygon points="26.00,1.00 52.00,1.50 52.00,4.60 26.00,2.60" fill="url(#w20t)" filter="url(#b07)"/><polygon points="26.00,-1.00 52.00,-1.50 52.00,-4.60 26.00,-2.60" fill="url(#w20t)" filter="url(#b07)"/><polygon points="10.00,1.80 52.00,3.00 52.00,7.50 10.00,3.00" fill="url(#w20s)" filter="url(#b07)"/><polygon points="10.00,-1.80 52.00,-3.00 52.00,-7.50 10.00,-3.00" fill="url(#w20s)" filter="url(#b07)"/><use href="#gsL" transform="translate(9.60 2.60) rotate(10.0) scale(1.20 0.70)" opacity="0.200"/><use href="#gsR" transform="translate(9.60 2.60) rotate(10.0) scale(15.00 0.70)" opacity="0.200"/><use href="#gsL" transform="translate(9.60 -2.60) rotate(-10.0) scale(1.20 0.70)" opacity="0.200"/><use href="#gsR" transform="translate(9.60 -2.60) rotate(-10.0) scale(15.00 0.70)" opacity="0.200"/><use href="#gsL" transform="translate(9.30 2.90) rotate(19.0) scale(1.20 0.60)" opacity="0.140"/><use href="#gsR" transform="translate(9.30 2.90) rotate(19.0) scale(10.00 0.60)" opacity="0.140"/><use href="#gsL" transform="translate(9.30 -2.90) rotate(-19.0) scale(1.20 0.60)" opacity="0.140"/><use href="#gsR" transform="translate(9.30 -2.90) rotate(-19.0) scale(10.00 0.60)" opacity="0.140"/><use href="#gsL" transform="translate(8.60 3.00) rotate(32.0) scale(1.05 0.50)" opacity="0.120"/><use href="#gsR" transform="translate(8.60 3.00) rotate(32.0) scale(7.00 0.50)" opacity="0.120"/><use href="#gsL" transform="translate(8.60 -3.00) rotate(-32.0) scale(1.05 0.50)" opacity="0.120"/><use href="#gsR" transform="translate(8.60 -3.00) rotate(-32.0) scale(7.00 0.50)" opacity="0.120"/><use href="#gfC" transform="translate(12.50 0.00) scale(3.60 2.60)" opacity="0.380"/><path d="M0.021,-1L0,-1A1,1 0 0 0 0,1L0.021,1Z" fill="url(#mg9)" transform="translate(28.50 0.00) scale(14.00 3.60)" style="mix-blend-mode:lighten"/><path d="M0,-1A1,1 0 0 1 0,1Z" fill="url(#mg9)" transform="translate(28.50 0.00) scale(33.00 3.60)" style="mix-blend-mode:lighten"/><path d="M0.032,-1L0,-1A1,1 0 0 0 0,1L0.032,1Z" fill="url(#mg10)" transform="translate(22.50 0.00) scale(9.30 1.75)" style="mix-blend-mode:lighten"/><path d="M0,-1A1,1 0 0 1 0,1Z" fill="url(#mg10)" transform="translate(22.50 0.00) scale(18.00 1.75)" style="mix-blend-mode:lighten"/><path d="M0.111,-1L0,-1A1,1 0 0 0 0,1L0.111,1Z" fill="url(#mg11)" transform="translate(15.80 0.00) scale(2.70 1.00)" style="mix-blend-mode:lighten"/><path d="M0,-1A1,1 0 0 1 0,1Z" fill="url(#mg11)" transform="translate(15.80 0.00) scale(5.00 1.00)" style="mix-blend-mode:lighten"/><path d="M0.300,-1L0,-1A1,1 0 0 0 0,1L0.300,1Z" fill="url(#mg12)" transform="translate(9.70 2.00) rotate(-10.0) scale(1.00 1.00)" style="mix-blend-mode:lighten"/><path d="M0,-1A1,1 0 0 1 0,1Z" fill="url(#mg12)" transform="translate(9.70 2.00) rotate(-10.0) scale(6.80 1.00)" style="mix-blend-mode:lighten"/><path d="M0.300,-1L0,-1A1,1 0 0 0 0,1L0.300,1Z" fill="url(#mg13)" transform="translate(9.70 -2.00) rotate(10.0) scale(1.00 1.00)" style="mix-blend-mode:lighten"/><path d="M0,-1A1,1 0 0 1 0,1Z" fill="url(#mg13)" transform="translate(9.70 -2.00) rotate(10.0) scale(6.80 1.00)" style="mix-blend-mode:lighten"/><path d="M0.300,-1L0,-1A1,1 0 0 0 0,1L0.300,1Z" fill="url(#mg14)" transform="translate(10.20 2.30) rotate(-3.0) scale(1.00 0.55)" style="mix-blend-mode:lighten"/><path d="M0,-1A1,1 0 0 1 0,1Z" fill="url(#mg14)" transform="translate(10.20 2.30) rotate(-3.0) scale(9.00 0.55)" style="mix-blend-mode:lighten"/><path d="M0.300,-1L0,-1A1,1 0 0 0 0,1L0.300,1Z" fill="url(#mg15)" transform="translate(10.20 -2.30) rotate(3.0) scale(1.00 0.55)" style="mix-blend-mode:lighten"/><path d="M0,-1A1,1 0 0 1 0,1Z" fill="url(#mg15)" transform="translate(10.20 -2.30) rotate(3.0) scale(9.00 0.55)" style="mix-blend-mode:lighten"/><use href="#gsD" transform="translate(12.00 0.00) scale(0.80 0.42)" opacity="0.850"/><line x1="2.68" y1="0.99" x2="1.96" y2="6.82" stroke="#fff" stroke-width="0.20" opacity="0.143" stroke-linecap="round" filter="url(#b02)"/><line x1="2.68" y1="-0.99" x2="1.96" y2="-6.82" stroke="#fff" stroke-width="0.20" opacity="0.143" stroke-linecap="round" filter="url(#b02)"/><line x1="2.58" y1="0.97" x2="1.08" y2="7.43" stroke="#fff" stroke-width="0.20" opacity="0.221" stroke-linecap="round" filter="url(#b02)"/><line x1="2.58" y1="-0.97" x2="1.08" y2="-7.43" stroke="#fff" stroke-width="0.20" opacity="0.221" stroke-linecap="round" filter="url(#b02)"/><line x1="2.47" y1="0.95" x2="0.64" y2="6.26" stroke="#fff" stroke-width="0.20" opacity="0.117" stroke-linecap="round" filter="url(#b02)"/><line x1="2.47" y1="-0.95" x2="0.64" y2="-6.26" stroke="#fff" stroke-width="0.20" opacity="0.117" stroke-linecap="round" filter="url(#b02)"/><line x1="2.38" y1="0.91" x2="-0.53" y2="7.14" stroke="#fff" stroke-width="0.20" opacity="0.247" stroke-linecap="round" filter="url(#b02)"/><line x1="2.38" y1="-0.91" x2="-0.53" y2="-7.14" stroke="#fff" stroke-width="0.20" opacity="0.247" stroke-linecap="round" filter="url(#b02)"/><line x1="2.28" y1="0.86" x2="-0.81" y2="6.00" stroke="#fff" stroke-width="0.20" opacity="0.156" stroke-linecap="round" filter="url(#b02)"/><line x1="2.28" y1="-0.86" x2="-0.81" y2="-6.00" stroke="#fff" stroke-width="0.20" opacity="0.156" stroke-linecap="round" filter="url(#b02)"/><line x1="2.20" y1="0.80" x2="-2.01" y2="6.39" stroke="#fff" stroke-width="0.20" opacity="0.260" stroke-linecap="round" filter="url(#b02)"/><line x1="2.20" y1="-0.80" x2="-2.01" y2="-6.39" stroke="#fff" stroke-width="0.20" opacity="0.260" stroke-linecap="round" filter="url(#b02)"/><line x1="2.12" y1="0.73" x2="-1.89" y2="5.03" stroke="#fff" stroke-width="0.20" opacity="0.143" stroke-linecap="round" filter="url(#b02)"/><line x1="2.12" y1="-0.73" x2="-1.89" y2="-5.03" stroke="#fff" stroke-width="0.20" opacity="0.143" stroke-linecap="round" filter="url(#b02)"/><line x1="2.05" y1="0.66" x2="-2.95" y2="5.00" stroke="#fff" stroke-width="0.20" opacity="0.221" stroke-linecap="round" filter="url(#b02)"/><line x1="2.05" y1="-0.66" x2="-2.95" y2="-5.00" stroke="#fff" stroke-width="0.20" opacity="0.221" stroke-linecap="round" filter="url(#b02)"/><line x1="1.98" y1="0.57" x2="-2.63" y2="3.80" stroke="#fff" stroke-width="0.20" opacity="0.117" stroke-linecap="round" filter="url(#b02)"/><line x1="1.98" y1="-0.57" x2="-2.63" y2="-3.80" stroke="#fff" stroke-width="0.20" opacity="0.117" stroke-linecap="round" filter="url(#b02)"/><line x1="1.93" y1="0.48" x2="-4.09" y2="3.82" stroke="#fff" stroke-width="0.20" opacity="0.247" stroke-linecap="round" filter="url(#b02)"/><line x1="1.93" y1="-0.48" x2="-4.09" y2="-3.82" stroke="#fff" stroke-width="0.20" opacity="0.247" stroke-linecap="round" filter="url(#b02)"/><line x1="1.88" y1="0.39" x2="-3.64" y2="2.74" stroke="#fff" stroke-width="0.20" opacity="0.156" stroke-linecap="round" filter="url(#b02)"/><line x1="1.88" y1="-0.39" x2="-3.64" y2="-2.74" stroke="#fff" stroke-width="0.20" opacity="0.156" stroke-linecap="round" filter="url(#b02)"/><line x1="1.84" y1="0.29" x2="-4.85" y2="2.34" stroke="#fff" stroke-width="0.20" opacity="0.260" stroke-linecap="round" filter="url(#b02)"/><line x1="1.84" y1="-0.29" x2="-4.85" y2="-2.34" stroke="#fff" stroke-width="0.20" opacity="0.260" stroke-linecap="round" filter="url(#b02)"/><line x1="1.82" y1="0.19" x2="-3.95" y2="1.31" stroke="#fff" stroke-width="0.20" opacity="0.143" stroke-linecap="round" filter="url(#b02)"/><line x1="1.82" y1="-0.19" x2="-3.95" y2="-1.31" stroke="#fff" stroke-width="0.20" opacity="0.143" stroke-linecap="round" filter="url(#b02)"/><line x1="3.68" y1="0.47" x2="7.77" y2="2.64" stroke="#fff" stroke-width="0.20" opacity="0.187" stroke-linecap="round" filter="url(#b02)"/><line x1="3.68" y1="-0.47" x2="7.77" y2="-2.64" stroke="#fff" stroke-width="0.20" opacity="0.187" stroke-linecap="round" filter="url(#b02)"/><line x1="3.62" y1="0.57" x2="6.59" y2="2.65" stroke="#fff" stroke-width="0.20" opacity="0.099" stroke-linecap="round" filter="url(#b02)"/><line x1="3.62" y1="-0.57" x2="6.59" y2="-2.65" stroke="#fff" stroke-width="0.20" opacity="0.099" stroke-linecap="round" filter="url(#b02)"/><line x1="3.54" y1="0.67" x2="7.17" y2="3.93" stroke="#fff" stroke-width="0.20" opacity="0.209" stroke-linecap="round" filter="url(#b02)"/><line x1="3.54" y1="-0.67" x2="7.17" y2="-3.93" stroke="#fff" stroke-width="0.20" opacity="0.209" stroke-linecap="round" filter="url(#b02)"/><line x1="3.46" y1="0.75" x2="6.08" y2="3.77" stroke="#fff" stroke-width="0.20" opacity="0.132" stroke-linecap="round" filter="url(#b02)"/><line x1="3.46" y1="-0.75" x2="6.08" y2="-3.77" stroke="#fff" stroke-width="0.20" opacity="0.132" stroke-linecap="round" filter="url(#b02)"/><line x1="3.36" y1="0.83" x2="6.16" y2="4.97" stroke="#fff" stroke-width="0.20" opacity="0.220" stroke-linecap="round" filter="url(#b02)"/><line x1="3.36" y1="-0.83" x2="6.16" y2="-4.97" stroke="#fff" stroke-width="0.20" opacity="0.220" stroke-linecap="round" filter="url(#b02)"/><line x1="3.25" y1="0.89" x2="5.01" y2="4.34" stroke="#fff" stroke-width="0.20" opacity="0.121" stroke-linecap="round" filter="url(#b02)"/><line x1="3.25" y1="-0.89" x2="5.01" y2="-4.34" stroke="#fff" stroke-width="0.20" opacity="0.121" stroke-linecap="round" filter="url(#b02)"/><line x1="3.14" y1="0.94" x2="4.72" y2="5.29" stroke="#fff" stroke-width="0.20" opacity="0.187" stroke-linecap="round" filter="url(#b02)"/><line x1="3.14" y1="-0.94" x2="4.72" y2="-5.29" stroke="#fff" stroke-width="0.20" opacity="0.187" stroke-linecap="round" filter="url(#b02)"/><line x1="3.02" y1="0.97" x2="3.84" y2="4.51" stroke="#fff" stroke-width="0.20" opacity="0.099" stroke-linecap="round" filter="url(#b02)"/><line x1="3.02" y1="-0.97" x2="3.84" y2="-4.51" stroke="#fff" stroke-width="0.20" opacity="0.099" stroke-linecap="round" filter="url(#b02)"/><line x1="2.90" y1="0.99" x2="3.41" y2="5.84" stroke="#fff" stroke-width="0.20" opacity="0.209" stroke-linecap="round" filter="url(#b02)"/><line x1="2.90" y1="-0.99" x2="3.41" y2="-5.84" stroke="#fff" stroke-width="0.20" opacity="0.209" stroke-linecap="round" filter="url(#b02)"/><use href="#gsC" transform="translate(2.80 0.00) scale(3.40 2.80)" opacity="0.360"/><polygon points="-1.00,1.38 0.00,1.10 0.70,0.68 1.30,0.36 2.00,0.26 3.00,0.26 3.40,0.44 3.90,0.80 4.60,1.15 4.60,0.00 4.60,0.00 4.60,-1.15 3.90,-0.80 3.40,-0.44 3.00,-0.26 2.00,-0.26 1.30,-0.36 0.70,-0.68 0.00,-1.10 -1.00,-1.38" fill="#fff" opacity="0.300" filter="url(#b1)"/><polygon points="-1.00,1.38 0.00,1.10 0.70,0.68 1.30,0.36 2.00,0.26 3.00,0.26 3.40,0.44 3.90,0.80 4.60,1.15 4.60,0.00 4.60,0.00 4.60,-1.15 3.90,-0.80 3.40,-0.44 3.00,-0.26 2.00,-0.26 1.30,-0.36 0.70,-0.68 0.00,-1.10 -1.00,-1.38" fill="#fff" opacity="0.675" filter="url(#b04)"/><polygon points="-1.00,1.38 0.00,1.10 0.70,0.68 1.30,0.36 2.00,0.26 3.00,0.26 3.40,0.44 3.90,0.80 4.60,1.15 4.60,0.00 4.60,0.00 4.60,-1.15 3.90,-0.80 3.40,-0.44 3.00,-0.26 2.00,-0.26 1.30,-0.36 0.70,-0.68 0.00,-1.10 -1.00,-1.38" fill="#fff" opacity="0.400" filter="url(#b02)"/><g clip-path="url(#sph)"><circle r="1" fill="url(#rg16)" transform="translate(5.60 0.00) scale(4.30 4.30)"/><polygon points="4.10,0.50 4.50,1.10 5.20,1.40 6.00,1.45 6.70,1.20 7.10,0.70 7.25,0.00 7.25,0.00 7.10,-0.70 6.70,-1.20 6.00,-1.45 5.20,-1.40 4.50,-1.10 4.10,-0.50" fill="#fff" opacity="1.000" filter="url(#b02)"/><rect x="7.90" y="-3.3" width="2.60" height="6.6" fill="#000" opacity="0.50" filter="url(#spk3)"/><rect x="7.90" y="-3.3" width="2.60" height="6.6" fill="#fff" opacity="0.30" filter="url(#spk2)"/></g><polygon points="-1.00,1.20 0.00,0.95 0.70,0.56 1.30,0.27 2.00,0.19 3.00,0.19 3.40,0.36 3.90,0.70 4.50,1.05 4.50,0.00 4.50,0.00 4.50,-1.05 3.90,-0.70 3.40,-0.36 3.00,-0.19 2.00,-0.19 1.30,-0.27 0.70,-0.56 0.00,-0.95 -1.00,-1.20" fill="#fff" opacity="1.000" filter="url(#b02)"/></g></g><ellipse cx="315.55" cy="253.20" rx="12.7" ry="12.0" fill="none" stroke="#fff" stroke-width="1.05"/></g><text x="481.6" y="228.0" font-family="Liberation Sans, sans-serif" font-weight="bold" font-size="12.4" fill="#fff" text-anchor="end" textLength="22.2" lengthAdjust="spacingAndGlyphs">n=2</text><rect x="491.50" y="215.00" width="4.8" height="76.40" fill="url(#cb)"/><text x="498.2" y="218.0" font-family="Liberation Sans, sans-serif" font-weight="bold" font-size="6.6" fill="#111" stroke="#111" stroke-width="0.28">0.3</text><text x="498.2" y="232.1" font-family="Liberation Sans, sans-serif" font-weight="bold" font-size="6.6" fill="#111" stroke="#111" stroke-width="0.28">0.25</text><text x="498.2" y="246.2" font-family="Liberation Sans, sans-serif" font-weight="bold" font-size="6.6" fill="#111" stroke="#111" stroke-width="0.28">0.2</text><text x="498.2" y="260.4" font-family="Liberation Sans, sans-serif" font-weight="bold" font-size="6.6" fill="#111" stroke="#111" stroke-width="0.28">0.15</text><text x="498.2" y="274.5" font-family="Liberation Sans, sans-serif" font-weight="bold" font-size="6.6" fill="#111" stroke="#111" stroke-width="0.28">0.1</text><text x="498.2" y="288.6" font-family="Liberation Sans, sans-serif" font-weight="bold" font-size="6.6" fill="#111" stroke="#111" stroke-width="0.28">0.05</text><text x="281.5" y="218.1" font-family="Liberation Sans, sans-serif" font-weight="bold" font-size="8.1" fill="#111" stroke="#111" stroke-width="0.28" text-anchor="end">10</text><text x="281.5" y="237.0" font-family="Liberation Sans, sans-serif" font-weight="bold" font-size="8.1" fill="#111" stroke="#111" stroke-width="0.28" text-anchor="end">5</text><text x="281.5" y="255.9" font-family="Liberation Sans, sans-serif" font-weight="bold" font-size="8.1" fill="#111" stroke="#111" stroke-width="0.28" text-anchor="end">0</text><text x="281.5" y="274.8" font-family="Liberation Sans, sans-serif" font-weight="bold" font-size="8.1" fill="#111" stroke="#111" stroke-width="0.28" text-anchor="end">-5</text><text x="281.5" y="293.7" font-family="Liberation Sans, sans-serif" font-weight="bold" font-size="8.1" fill="#111" stroke="#111" stroke-width="0.28" text-anchor="end">-10</text><text transform="translate(266.8 253.2) rotate(-90)" font-family="Liberation Sans, sans-serif" font-weight="bold" font-size="8.3" fill="#111" stroke="#111" stroke-width="0.28" text-anchor="middle">z(µm)</text><clipPath id="cn2_2"><rect x="284.00" y="304.00" width="203.60" height="75.80"/></clipPath><g clip-path="url(#cn2_2)"><g filter="url(#jet)"><rect x="279.00" y="299.00" width="213.60" height="85.80" fill="#020202"/><g transform="translate(286.00 341.90) scale(4.030 -3.790)"><use href="#gsL" transform="translate(25.50 0.00) scale(14.00 7.00)" opacity="0.360"/><use href="#gsR" transform="translate(25.50 0.00) scale(44.00 7.00)" opacity="0.360"/><use href="#gsL" transform="translate(9.60 2.60) rotate(12.0) scale(1.20 0.70)" opacity="0.160"/><use href="#gsR" transform="translate(9.60 2.60) rotate(12.0) scale(12.00 0.70)" opacity="0.160"/><use href="#gsL" transform="translate(9.60 -2.60) rotate(-12.0) scale(1.20 0.70)" opacity="0.160"/><use href="#gsR" transform="translate(9.60 -2.60) rotate(-12.0) scale(12.00 0.70)" opacity="0.160"/><use href="#gsL" transform="translate(9.30 2.90) rotate(22.0) scale(1.20 0.60)" opacity="0.120"/><use href="#gsR" transform="translate(9.30 2.90) rotate(22.0) scale(9.00 0.60)" opacity="0.120"/><use href="#gsL" transform="translate(9.30 -2.90) rotate(-22.0) scale(1.20 0.60)" opacity="0.120"/><use href="#gsR" transform="translate(9.30 -2.90) rotate(-22.0) scale(9.00 0.60)" opacity="0.120"/><use href="#gfC" transform="translate(12.30 0.00) scale(3.20 2.50)" opacity="0.360"/><path d="M0.035,-1L0,-1A1,1 0 0 0 0,1L0.035,1Z" fill="url(#mg17)" transform="translate(20.50 0.00) scale(8.50 2.70)" style="mix-blend-mode:lighten"/><path d="M0,-1A1,1 0 0 1 0,1Z" fill="url(#mg17)" transform="translate(20.50 0.00) scale(21.50 2.70)" style="mix-blend-mode:lighten"/><path d="M0.055,-1L0,-1A1,1 0 0 0 0,1L0.055,1Z" fill="url(#mg18)" transform="translate(17.50 0.00) scale(5.50 1.25)" style="mix-blend-mode:lighten"/><path d="M0,-1A1,1 0 0 1 0,1Z" fill="url(#mg18)" transform="translate(17.50 0.00) scale(10.70 1.25)" style="mix-blend-mode:lighten"/><path d="M0.300,-1L0,-1A1,1 0 0 0 0,1L0.300,1Z" fill="url(#mg19)" transform="translate(9.70 2.00) rotate(-12.0) scale(1.00 1.00)" style="mix-blend-mode:lighten"/><path d="M0,-1A1,1 0 0 1 0,1Z" fill="url(#mg19)" transform="translate(9.70 2.00) rotate(-12.0) scale(6.20 1.00)" style="mix-blend-mode:lighten"/><path d="M0.300,-1L0,-1A1,1 0 0 0 0,1L0.300,1Z" fill="url(#mg20)" transform="translate(9.70 -2.00) rotate(12.0) scale(1.00 1.00)" style="mix-blend-mode:lighten"/><path d="M0,-1A1,1 0 0 1 0,1Z" fill="url(#mg20)" transform="translate(9.70 -2.00) rotate(12.0) scale(6.20 1.00)" style="mix-blend-mode:lighten"/><use href="#gsD" transform="translate(11.70 0.00) scale(0.75 0.40)" opacity="0.700"/><use href="#gsL" transform="translate(7.30 3.00) rotate(64.0) scale(1.20 0.45)" opacity="0.150"/><use href="#gsR" transform="translate(7.30 3.00) rotate(64.0) scale(8.00 0.45)" opacity="0.150"/><use href="#gsL" transform="translate(7.30 -3.00) rotate(-64.0) scale(1.20 0.45)" opacity="0.150"/><use href="#gsR" transform="translate(7.30 -3.00) rotate(-64.0) scale(8.00 0.45)" opacity="0.150"/><use href="#gsL" transform="translate(7.30 3.00) rotate(116.0) scale(1.20 0.45)" opacity="0.150"/><use href="#gsR" transform="translate(7.30 3.00) rotate(116.0) scale(8.00 0.45)" opacity="0.150"/><use href="#gsL" transform="translate(7.30 -3.00) rotate(-116.0) scale(1.20 0.45)" opacity="0.150"/><use href="#gsR" transform="translate(7.30 -3.00) rotate(-116.0) scale(8.00 0.45)" opacity="0.150"/><use href="#gsL" transform="translate(7.30 3.00) rotate(75.0) scale(0.75 0.50)" opacity="0.120"/><use href="#gsR" transform="translate(7.30 3.00) rotate(75.0) scale(5.00 0.50)" opacity="0.120"/><use href="#gsL" transform="translate(7.30 -3.00) rotate(-75.0) scale(0.75 0.50)" opacity="0.120"/><use href="#gsR" transform="translate(7.30 -3.00) rotate(-75.0) scale(5.00 0.50)" opacity="0.120"/><use href="#gsL" transform="translate(7.30 3.00) rotate(103.0) scale(0.75 0.50)" opacity="0.120"/><use href="#gsR" transform="translate(7.30 3.00) rotate(103.0) scale(5.00 0.50)" opacity="0.120"/><use href="#gsL" transform="translate(7.30 -3.00) rotate(-103.0) scale(0.75 0.50)" opacity="0.120"/><use href="#gsR" transform="translate(7.30 -3.00) rotate(-103.0) scale(5.00 0.50)" opacity="0.120"/><line x1="2.68" y1="0.99" x2="1.96" y2="6.82" stroke="#fff" stroke-width="0.20" opacity="0.143" stroke-linecap="round" filter="url(#b02)"/><line x1="2.68" y1="-0.99" x2="1.96" y2="-6.82" stroke="#fff" stroke-width="0.20" opacity="0.143" stroke-linecap="round" filter="url(#b02)"/><line x1="2.58" y1="0.97" x2="1.08" y2="7.43" stroke="#fff" stroke-width="0.20" opacity="0.221" stroke-linecap="round" filter="url(#b02)"/><line x1="2.58" y1="-0.97" x2="1.08" y2="-7.43" stroke="#fff" stroke-width="0.20" opacity="0.221" stroke-linecap="round" filter="url(#b02)"/><line x1="2.47" y1="0.95" x2="0.64" y2="6.26" stroke="#fff" stroke-width="0.20" opacity="0.117" stroke-linecap="round" filter="url(#b02)"/><line x1="2.47" y1="-0.95" x2="0.64" y2="-6.26" stroke="#fff" stroke-width="0.20" opacity="0.117" stroke-linecap="round" filter="url(#b02)"/><line x1="2.38" y1="0.91" x2="-0.53" y2="7.14" stroke="#fff" stroke-width="0.20" opacity="0.247" stroke-linecap="round" filter="url(#b02)"/><line x1="2.38" y1="-0.91" x2="-0.53" y2="-7.14" stroke="#fff" stroke-width="0.20" opacity="0.247" stroke-linecap="round" filter="url(#b02)"/><line x1="2.28" y1="0.86" x2="-0.81" y2="6.00" stroke="#fff" stroke-width="0.20" opacity="0.156" stroke-linecap="round" filter="url(#b02)"/><line x1="2.28" y1="-0.86" x2="-0.81" y2="-6.00" stroke="#fff" stroke-width="0.20" opacity="0.156" stroke-linecap="round" filter="url(#b02)"/><line x1="2.20" y1="0.80" x2="-2.01" y2="6.39" stroke="#fff" stroke-width="0.20" opacity="0.260" stroke-linecap="round" filter="url(#b02)"/><line x1="2.20" y1="-0.80" x2="-2.01" y2="-6.39" stroke="#fff" stroke-width="0.20" opacity="0.260" stroke-linecap="round" filter="url(#b02)"/><line x1="2.12" y1="0.73" x2="-1.89" y2="5.03" stroke="#fff" stroke-width="0.20" opacity="0.143" stroke-linecap="round" filter="url(#b02)"/><line x1="2.12" y1="-0.73" x2="-1.89" y2="-5.03" stroke="#fff" stroke-width="0.20" opacity="0.143" stroke-linecap="round" filter="url(#b02)"/><line x1="2.05" y1="0.66" x2="-2.95" y2="5.00" stroke="#fff" stroke-width="0.20" opacity="0.221" stroke-linecap="round" filter="url(#b02)"/><line x1="2.05" y1="-0.66" x2="-2.95" y2="-5.00" stroke="#fff" stroke-width="0.20" opacity="0.221" stroke-linecap="round" filter="url(#b02)"/><line x1="1.98" y1="0.57" x2="-2.63" y2="3.80" stroke="#fff" stroke-width="0.20" opacity="0.117" stroke-linecap="round" filter="url(#b02)"/><line x1="1.98" y1="-0.57" x2="-2.63" y2="-3.80" stroke="#fff" stroke-width="0.20" opacity="0.117" stroke-linecap="round" filter="url(#b02)"/><line x1="1.93" y1="0.48" x2="-4.09" y2="3.82" stroke="#fff" stroke-width="0.20" opacity="0.247" stroke-linecap="round" filter="url(#b02)"/><line x1="1.93" y1="-0.48" x2="-4.09" y2="-3.82" stroke="#fff" stroke-width="0.20" opacity="0.247" stroke-linecap="round" filter="url(#b02)"/><line x1="1.88" y1="0.39" x2="-3.64" y2="2.74" stroke="#fff" stroke-width="0.20" opacity="0.156" stroke-linecap="round" filter="url(#b02)"/><line x1="1.88" y1="-0.39" x2="-3.64" y2="-2.74" stroke="#fff" stroke-width="0.20" opacity="0.156" stroke-linecap="round" filter="url(#b02)"/><line x1="1.84" y1="0.29" x2="-4.85" y2="2.34" stroke="#fff" stroke-width="0.20" opacity="0.260" stroke-linecap="round" filter="url(#b02)"/><line x1="1.84" y1="-0.29" x2="-4.85" y2="-2.34" stroke="#fff" stroke-width="0.20" opacity="0.260" stroke-linecap="round" filter="url(#b02)"/><line x1="1.82" y1="0.19" x2="-3.95" y2="1.31" stroke="#fff" stroke-width="0.20" opacity="0.143" stroke-linecap="round" filter="url(#b02)"/><line x1="1.82" y1="-0.19" x2="-3.95" y2="-1.31" stroke="#fff" stroke-width="0.20" opacity="0.143" stroke-linecap="round" filter="url(#b02)"/><line x1="3.68" y1="0.47" x2="7.77" y2="2.64" stroke="#fff" stroke-width="0.20" opacity="0.187" stroke-linecap="round" filter="url(#b02)"/><line x1="3.68" y1="-0.47" x2="7.77" y2="-2.64" stroke="#fff" stroke-width="0.20" opacity="0.187" stroke-linecap="round" filter="url(#b02)"/><line x1="3.62" y1="0.57" x2="6.59" y2="2.65" stroke="#fff" stroke-width="0.20" opacity="0.099" stroke-linecap="round" filter="url(#b02)"/><line x1="3.62" y1="-0.57" x2="6.59" y2="-2.65" stroke="#fff" stroke-width="0.20" opacity="0.099" stroke-linecap="round" filter="url(#b02)"/><line x1="3.54" y1="0.67" x2="7.17" y2="3.93" stroke="#fff" stroke-width="0.20" opacity="0.209" stroke-linecap="round" filter="url(#b02)"/><line x1="3.54" y1="-0.67" x2="7.17" y2="-3.93" stroke="#fff" stroke-width="0.20" opacity="0.209" stroke-linecap="round" filter="url(#b02)"/><line x1="3.46" y1="0.75" x2="6.08" y2="3.77" stroke="#fff" stroke-width="0.20" opacity="0.132" stroke-linecap="round" filter="url(#b02)"/><line x1="3.46" y1="-0.75" x2="6.08" y2="-3.77" stroke="#fff" stroke-width="0.20" opacity="0.132" stroke-linecap="round" filter="url(#b02)"/><line x1="3.36" y1="0.83" x2="6.16" y2="4.97" stroke="#fff" stroke-width="0.20" opacity="0.220" stroke-linecap="round" filter="url(#b02)"/><line x1="3.36" y1="-0.83" x2="6.16" y2="-4.97" stroke="#fff" stroke-width="0.20" opacity="0.220" stroke-linecap="round" filter="url(#b02)"/><line x1="3.25" y1="0.89" x2="5.01" y2="4.34" stroke="#fff" stroke-width="0.20" opacity="0.121" stroke-linecap="round" filter="url(#b02)"/><line x1="3.25" y1="-0.89" x2="5.01" y2="-4.34" stroke="#fff" stroke-width="0.20" opacity="0.121" stroke-linecap="round" filter="url(#b02)"/><line x1="3.14" y1="0.94" x2="4.72" y2="5.29" stroke="#fff" stroke-width="0.20" opacity="0.187" stroke-linecap="round" filter="url(#b02)"/><line x1="3.14" y1="-0.94" x2="4.72" y2="-5.29" stroke="#fff" stroke-width="0.20" opacity="0.187" stroke-linecap="round" filter="url(#b02)"/><line x1="3.02" y1="0.97" x2="3.84" y2="4.51" stroke="#fff" stroke-width="0.20" opacity="0.099" stroke-linecap="round" filter="url(#b02)"/><line x1="3.02" y1="-0.97" x2="3.84" y2="-4.51" stroke="#fff" stroke-width="0.20" opacity="0.099" stroke-linecap="round" filter="url(#b02)"/><line x1="2.90" y1="0.99" x2="3.41" y2="5.84" stroke="#fff" stroke-width="0.20" opacity="0.209" stroke-linecap="round" filter="url(#b02)"/><line x1="2.90" y1="-0.99" x2="3.41" y2="-5.84" stroke="#fff" stroke-width="0.20" opacity="0.209" stroke-linecap="round" filter="url(#b02)"/><use href="#gsC" transform="translate(2.80 0.00) scale(3.40 2.80)" opacity="0.360"/><polygon points="-1.00,1.38 0.00,1.10 0.70,0.68 1.30,0.36 2.00,0.26 3.00,0.26 3.40,0.44 3.90,0.80 4.60,1.15 4.60,0.00 4.60,0.00 4.60,-1.15 3.90,-0.80 3.40,-0.44 3.00,-0.26 2.00,-0.26 1.30,-0.36 0.70,-0.68 0.00,-1.10 -1.00,-1.38" fill="#fff" opacity="0.300" filter="url(#b1)"/><polygon points="-1.00,1.38 0.00,1.10 0.70,0.68 1.30,0.36 2.00,0.26 3.00,0.26 3.40,0.44 3.90,0.80 4.60,1.15 4.60,0.00 4.60,0.00 4.60,-1.15 3.90,-0.80 3.40,-0.44 3.00,-0.26 2.00,-0.26 1.30,-0.36 0.70,-0.68 0.00,-1.10 -1.00,-1.38" fill="#fff" opacity="0.675" filter="url(#b04)"/><polygon points="-1.00,1.38 0.00,1.10 0.70,0.68 1.30,0.36 2.00,0.26 3.00,0.26 3.40,0.44 3.90,0.80 4.60,1.15 4.60,0.00 4.60,0.00 4.60,-1.15 3.90,-0.80 3.40,-0.44 3.00,-0.26 2.00,-0.26 1.30,-0.36 0.70,-0.68 0.00,-1.10 -1.00,-1.38" fill="#fff" opacity="0.400" filter="url(#b02)"/><g clip-path="url(#sph)"><circle r="1" fill="url(#rg21)" transform="translate(6.00 0.00) scale(4.30 4.30)"/><polygon points="4.10,0.50 4.50,1.10 5.20,1.40 6.00,1.45 6.70,1.20 7.10,0.70 7.25,0.00 7.25,0.00 7.10,-0.70 6.70,-1.20 6.00,-1.45 5.20,-1.40 4.50,-1.10 4.10,-0.50" fill="#fff" opacity="1.000" filter="url(#b02)"/><rect x="6.50" y="-3.3" width="4.00" height="6.6" fill="#000" opacity="0.35" filter="url(#spk)"/><ellipse cx="7.3" cy="0" rx="2.55" ry="2.6" fill="none" stroke="#000" stroke-width="0.95" opacity="0.75" filter="url(#spk3)"/></g><polygon points="-1.00,1.20 0.00,0.95 0.70,0.56 1.30,0.27 2.00,0.19 3.00,0.19 3.40,0.36 3.90,0.70 4.50,1.05 4.50,0.00 4.50,0.00 4.50,-1.05 3.90,-0.70 3.40,-0.36 3.00,-0.19 2.00,-0.19 1.30,-0.27 0.70,-0.56 0.00,-0.95 -1.00,-1.20" fill="#fff" opacity="1.000" filter="url(#b02)"/></g></g><ellipse cx="315.62" cy="341.90" rx="12.7" ry="12.0" fill="none" stroke="#fff" stroke-width="1.05"/></g><text x="481.9" y="317.5" font-family="Liberation Sans, sans-serif" font-weight="bold" font-size="12.4" fill="#fff" text-anchor="end" textLength="33.0" lengthAdjust="spacingAndGlyphs">n=2.2</text><rect x="492.10" y="304.00" width="4.8" height="75.80" fill="url(#cb)"/><text x="498.8" y="307.0" font-family="Liberation Sans, sans-serif" font-weight="bold" font-size="6.6" fill="#111" stroke="#111" stroke-width="0.28">0.3</text><text x="498.8" y="321.0" font-family="Liberation Sans, sans-serif" font-weight="bold" font-size="6.6" fill="#111" stroke="#111" stroke-width="0.28">0.25</text><text x="498.8" y="335.0" font-family="Liberation Sans, sans-serif" font-weight="bold" font-size="6.6" fill="#111" stroke="#111" stroke-width="0.28">0.2</text><text x="498.8" y="349.0" font-family="Liberation Sans, sans-serif" font-weight="bold" font-size="6.6" fill="#111" stroke="#111" stroke-width="0.28">0.15</text><text x="498.8" y="363.0" font-family="Liberation Sans, sans-serif" font-weight="bold" font-size="6.6" fill="#111" stroke="#111" stroke-width="0.28">0.1</text><text x="498.8" y="377.0" font-family="Liberation Sans, sans-serif" font-weight="bold" font-size="6.6" fill="#111" stroke="#111" stroke-width="0.28">0.05</text><text x="281.5" y="307.1" font-family="Liberation Sans, sans-serif" font-weight="bold" font-size="8.1" fill="#111" stroke="#111" stroke-width="0.28" text-anchor="end">10</text><text x="281.5" y="325.8" font-family="Liberation Sans, sans-serif" font-weight="bold" font-size="8.1" fill="#111" stroke="#111" stroke-width="0.28" text-anchor="end">5</text><text x="281.5" y="344.6" font-family="Liberation Sans, sans-serif" font-weight="bold" font-size="8.1" fill="#111" stroke="#111" stroke-width="0.28" text-anchor="end">0</text><text x="281.5" y="363.3" font-family="Liberation Sans, sans-serif" font-weight="bold" font-size="8.1" fill="#111" stroke="#111" stroke-width="0.28" text-anchor="end">-5</text><text x="281.5" y="382.1" font-family="Liberation Sans, sans-serif" font-weight="bold" font-size="8.1" fill="#111" stroke="#111" stroke-width="0.28" text-anchor="end">-10</text><text transform="translate(266.8 341.9) rotate(-90)" font-family="Liberation Sans, sans-serif" font-weight="bold" font-size="8.3" fill="#111" stroke="#111" stroke-width="0.28" text-anchor="middle">z(µm)</text><clipPath id="cn2_5"><rect x="284.40" y="394.00" width="204.50" height="76.50"/></clipPath><g clip-path="url(#cn2_5)"><g filter="url(#jet)"><rect x="279.40" y="389.00" width="214.50" height="86.50" fill="#020202"/><g transform="translate(286.30 432.25) scale(4.040 -3.825)"><use href="#gsL" transform="translate(15.00 0.00) scale(6.00 5.80)" opacity="0.320"/><use href="#gsR" transform="translate(15.00 0.00) scale(19.00 5.80)" opacity="0.320"/><use href="#gsL" transform="translate(9.50 1.50) rotate(14.0) scale(1.20 0.70)" opacity="0.120"/><use href="#gsR" transform="translate(9.50 1.50) rotate(14.0) scale(24.00 0.70)" opacity="0.120"/><use href="#gsL" transform="translate(9.50 -1.50) rotate(-14.0) scale(1.20 0.70)" opacity="0.120"/><use href="#gsR" transform="translate(9.50 -1.50) rotate(-14.0) scale(24.00 0.70)" opacity="0.120"/><use href="#gsL" transform="translate(9.50 1.50) rotate(24.0) scale(1.20 0.70)" opacity="0.150"/><use href="#gsR" transform="translate(9.50 1.50) rotate(24.0) scale(22.00 0.70)" opacity="0.150"/><use href="#gsL" transform="translate(9.50 -1.50) rotate(-24.0) scale(1.20 0.70)" opacity="0.150"/><use href="#gsR" transform="translate(9.50 -1.50) rotate(-24.0) scale(22.00 0.70)" opacity="0.150"/><use href="#gsL" transform="translate(9.50 1.50) rotate(34.0) scale(1.20 0.70)" opacity="0.130"/><use href="#gsR" transform="translate(9.50 1.50) rotate(34.0) scale(18.00 0.70)" opacity="0.130"/><use href="#gsL" transform="translate(9.50 -1.50) rotate(-34.0) scale(1.20 0.70)" opacity="0.130"/><use href="#gsR" transform="translate(9.50 -1.50) rotate(-34.0) scale(18.00 0.70)" opacity="0.130"/><use href="#gsL" transform="translate(9.50 1.50) rotate(43.0) scale(1.20 0.70)" opacity="0.100"/><use href="#gsR" transform="translate(9.50 1.50) rotate(43.0) scale(13.00 0.70)" opacity="0.100"/><use href="#gsL" transform="translate(9.50 -1.50) rotate(-43.0) scale(1.20 0.70)" opacity="0.100"/><use href="#gsR" transform="translate(9.50 -1.50) rotate(-43.0) scale(13.00 0.70)" opacity="0.100"/><use href="#gsL" transform="translate(8.20 3.00) rotate(52.0) scale(1.20 0.50)" opacity="0.200"/><use href="#gsR" transform="translate(8.20 3.00) rotate(52.0) scale(11.00 0.50)" opacity="0.200"/><use href="#gsL" transform="translate(8.20 -3.00) rotate(-52.0) scale(1.20 0.50)" opacity="0.200"/><use href="#gsR" transform="translate(8.20 -3.00) rotate(-52.0) scale(11.00 0.50)" opacity="0.200"/><use href="#gsL" transform="translate(8.20 3.00) rotate(61.0) scale(1.20 0.50)" opacity="0.160"/><use href="#gsR" transform="translate(8.20 3.00) rotate(61.0) scale(11.00 0.50)" opacity="0.160"/><use href="#gsL" transform="translate(8.20 -3.00) rotate(-61.0) scale(1.20 0.50)" opacity="0.160"/><use href="#gsR" transform="translate(8.20 -3.00) rotate(-61.0) scale(11.00 0.50)" opacity="0.160"/><use href="#gsL" transform="translate(5.60 2.90) rotate(124.0) scale(1.20 0.42)" opacity="0.200"/><use href="#gsR" transform="translate(5.60 2.90) rotate(124.0) scale(12.00 0.42)" opacity="0.200"/><use href="#gsL" transform="translate(5.60 -2.90) rotate(-124.0) scale(1.20 0.42)" opacity="0.200"/><use href="#gsR" transform="translate(5.60 -2.90) rotate(-124.0) scale(12.00 0.42)" opacity="0.200"/><use href="#gsL" transform="translate(5.60 2.50) rotate(132.0) scale(1.20 0.42)" opacity="0.220"/><use href="#gsR" transform="translate(5.60 2.50) rotate(132.0) scale(13.00 0.42)" opacity="0.220"/><use href="#gsL" transform="translate(5.60 -2.50) rotate(-132.0) scale(1.20 0.42)" opacity="0.220"/><use href="#gsR" transform="translate(5.60 -2.50) rotate(-132.0) scale(13.00 0.42)" opacity="0.220"/><use href="#gsL" transform="translate(5.60 2.10) rotate(140.0) scale(1.20 0.42)" opacity="0.200"/><use href="#gsR" transform="translate(5.60 2.10) rotate(140.0) scale(13.00 0.42)" opacity="0.200"/><use href="#gsL" transform="translate(5.60 -2.10) rotate(-140.0) scale(1.20 0.42)" opacity="0.200"/><use href="#gsR" transform="translate(5.60 -2.10) rotate(-140.0) scale(13.00 0.42)" opacity="0.200"/><use href="#gsL" transform="translate(5.60 1.70) rotate(148.0) scale(1.20 0.42)" opacity="0.180"/><use href="#gsR" transform="translate(5.60 1.70) rotate(148.0) scale(13.00 0.42)" opacity="0.180"/><use href="#gsL" transform="translate(5.60 -1.70) rotate(-148.0) scale(1.20 0.42)" opacity="0.180"/><use href="#gsR" transform="translate(5.60 -1.70) rotate(-148.0) scale(13.00 0.42)" opacity="0.180"/><use href="#gsL" transform="translate(5.60 1.30) rotate(156.0) scale(1.20 0.42)" opacity="0.150"/><use href="#gsR" transform="translate(5.60 1.30) rotate(156.0) scale(12.00 0.42)" opacity="0.150"/><use href="#gsL" transform="translate(5.60 -1.30) rotate(-156.0) scale(1.20 0.42)" opacity="0.150"/><use href="#gsR" transform="translate(5.60 -1.30) rotate(-156.0) scale(12.00 0.42)" opacity="0.150"/><path d="M0.060,-1L0,-1A1,1 0 0 0 0,1L0.060,1Z" fill="url(#mg22)" transform="translate(15.20 0.00) scale(5.00 1.90)" style="mix-blend-mode:lighten"/><path d="M0,-1A1,1 0 0 1 0,1Z" fill="url(#mg22)" transform="translate(15.20 0.00) scale(5.50 1.90)" style="mix-blend-mode:lighten"/><path d="M0.086,-1L0,-1A1,1 0 0 0 0,1L0.086,1Z" fill="url(#mg23)" transform="translate(12.00 0.00) scale(3.50 0.95)" style="mix-blend-mode:lighten"/><path d="M0,-1A1,1 0 0 1 0,1Z" fill="url(#mg23)" transform="translate(12.00 0.00) scale(5.30 0.95)" style="mix-blend-mode:lighten"/><path d="M0.300,-1L0,-1A1,1 0 0 0 0,1L0.300,1Z" fill="url(#mg24)" transform="translate(9.80 1.20) rotate(-14.0) scale(1.00 0.75)" style="mix-blend-mode:lighten"/><path d="M0,-1A1,1 0 0 1 0,1Z" fill="url(#mg24)" transform="translate(9.80 1.20) rotate(-14.0) scale(3.50 0.75)" style="mix-blend-mode:lighten"/><path d="M0.300,-1L0,-1A1,1 0 0 0 0,1L0.300,1Z" fill="url(#mg25)" transform="translate(9.80 -1.20) rotate(14.0) scale(1.00 0.75)" style="mix-blend-mode:lighten"/><path d="M0,-1A1,1 0 0 1 0,1Z" fill="url(#mg25)" transform="translate(9.80 -1.20) rotate(14.0) scale(3.50 0.75)" style="mix-blend-mode:lighten"/><line x1="2.68" y1="0.99" x2="1.96" y2="6.82" stroke="#fff" stroke-width="0.20" opacity="0.157" stroke-linecap="round" filter="url(#b02)"/><line x1="2.68" y1="-0.99" x2="1.96" y2="-6.82" stroke="#fff" stroke-width="0.20" opacity="0.157" stroke-linecap="round" filter="url(#b02)"/><line x1="2.58" y1="0.97" x2="1.08" y2="7.43" stroke="#fff" stroke-width="0.20" opacity="0.243" stroke-linecap="round" filter="url(#b02)"/><line x1="2.58" y1="-0.97" x2="1.08" y2="-7.43" stroke="#fff" stroke-width="0.20" opacity="0.243" stroke-linecap="round" filter="url(#b02)"/><line x1="2.47" y1="0.95" x2="0.64" y2="6.26" stroke="#fff" stroke-width="0.20" opacity="0.129" stroke-linecap="round" filter="url(#b02)"/><line x1="2.47" y1="-0.95" x2="0.64" y2="-6.26" stroke="#fff" stroke-width="0.20" opacity="0.129" stroke-linecap="round" filter="url(#b02)"/><line x1="2.38" y1="0.91" x2="-0.53" y2="7.14" stroke="#fff" stroke-width="0.20" opacity="0.272" stroke-linecap="round" filter="url(#b02)"/><line x1="2.38" y1="-0.91" x2="-0.53" y2="-7.14" stroke="#fff" stroke-width="0.20" opacity="0.272" stroke-linecap="round" filter="url(#b02)"/><line x1="2.28" y1="0.86" x2="-0.81" y2="6.00" stroke="#fff" stroke-width="0.20" opacity="0.172" stroke-linecap="round" filter="url(#b02)"/><line x1="2.28" y1="-0.86" x2="-0.81" y2="-6.00" stroke="#fff" stroke-width="0.20" opacity="0.172" stroke-linecap="round" filter="url(#b02)"/><line x1="2.20" y1="0.80" x2="-2.01" y2="6.39" stroke="#fff" stroke-width="0.20" opacity="0.286" stroke-linecap="round" filter="url(#b02)"/><line x1="2.20" y1="-0.80" x2="-2.01" y2="-6.39" stroke="#fff" stroke-width="0.20" opacity="0.286" stroke-linecap="round" filter="url(#b02)"/><line x1="2.12" y1="0.73" x2="-1.89" y2="5.03" stroke="#fff" stroke-width="0.20" opacity="0.157" stroke-linecap="round" filter="url(#b02)"/><line x1="2.12" y1="-0.73" x2="-1.89" y2="-5.03" stroke="#fff" stroke-width="0.20" opacity="0.157" stroke-linecap="round" filter="url(#b02)"/><line x1="2.05" y1="0.66" x2="-2.95" y2="5.00" stroke="#fff" stroke-width="0.20" opacity="0.243" stroke-linecap="round" filter="url(#b02)"/><line x1="2.05" y1="-0.66" x2="-2.95" y2="-5.00" stroke="#fff" stroke-width="0.20" opacity="0.243" stroke-linecap="round" filter="url(#b02)"/><line x1="1.98" y1="0.57" x2="-2.63" y2="3.80" stroke="#fff" stroke-width="0.20" opacity="0.129" stroke-linecap="round" filter="url(#b02)"/><line x1="1.98" y1="-0.57" x2="-2.63" y2="-3.80" stroke="#fff" stroke-width="0.20" opacity="0.129" stroke-linecap="round" filter="url(#b02)"/><line x1="1.93" y1="0.48" x2="-4.09" y2="3.82" stroke="#fff" stroke-width="0.20" opacity="0.272" stroke-linecap="round" filter="url(#b02)"/><line x1="1.93" y1="-0.48" x2="-4.09" y2="-3.82" stroke="#fff" stroke-width="0.20" opacity="0.272" stroke-linecap="round" filter="url(#b02)"/><line x1="1.88" y1="0.39" x2="-3.64" y2="2.74" stroke="#fff" stroke-width="0.20" opacity="0.172" stroke-linecap="round" filter="url(#b02)"/><line x1="1.88" y1="-0.39" x2="-3.64" y2="-2.74" stroke="#fff" stroke-width="0.20" opacity="0.172" stroke-linecap="round" filter="url(#b02)"/><line x1="1.84" y1="0.29" x2="-4.85" y2="2.34" stroke="#fff" stroke-width="0.20" opacity="0.286" stroke-linecap="round" filter="url(#b02)"/><line x1="1.84" y1="-0.29" x2="-4.85" y2="-2.34" stroke="#fff" stroke-width="0.20" opacity="0.286" stroke-linecap="round" filter="url(#b02)"/><line x1="1.82" y1="0.19" x2="-3.95" y2="1.31" stroke="#fff" stroke-width="0.20" opacity="0.157" stroke-linecap="round" filter="url(#b02)"/><line x1="1.82" y1="-0.19" x2="-3.95" y2="-1.31" stroke="#fff" stroke-width="0.20" opacity="0.157" stroke-linecap="round" filter="url(#b02)"/><line x1="3.68" y1="0.47" x2="7.77" y2="2.64" stroke="#fff" stroke-width="0.20" opacity="0.206" stroke-linecap="round" filter="url(#b02)"/><line x1="3.68" y1="-0.47" x2="7.77" y2="-2.64" stroke="#fff" stroke-width="0.20" opacity="0.206" stroke-linecap="round" filter="url(#b02)"/><line x1="3.62" y1="0.57" x2="6.59" y2="2.65" stroke="#fff" stroke-width="0.20" opacity="0.109" stroke-linecap="round" filter="url(#b02)"/><line x1="3.62" y1="-0.57" x2="6.59" y2="-2.65" stroke="#fff" stroke-width="0.20" opacity="0.109" stroke-linecap="round" filter="url(#b02)"/><line x1="3.54" y1="0.67" x2="7.17" y2="3.93" stroke="#fff" stroke-width="0.20" opacity="0.230" stroke-linecap="round" filter="url(#b02)"/><line x1="3.54" y1="-0.67" x2="7.17" y2="-3.93" stroke="#fff" stroke-width="0.20" opacity="0.230" stroke-linecap="round" filter="url(#b02)"/><line x1="3.46" y1="0.75" x2="6.08" y2="3.77" stroke="#fff" stroke-width="0.20" opacity="0.145" stroke-linecap="round" filter="url(#b02)"/><line x1="3.46" y1="-0.75" x2="6.08" y2="-3.77" stroke="#fff" stroke-width="0.20" opacity="0.145" stroke-linecap="round" filter="url(#b02)"/><line x1="3.36" y1="0.83" x2="6.16" y2="4.97" stroke="#fff" stroke-width="0.20" opacity="0.242" stroke-linecap="round" filter="url(#b02)"/><line x1="3.36" y1="-0.83" x2="6.16" y2="-4.97" stroke="#fff" stroke-width="0.20" opacity="0.242" stroke-linecap="round" filter="url(#b02)"/><line x1="3.25" y1="0.89" x2="5.01" y2="4.34" stroke="#fff" stroke-width="0.20" opacity="0.133" stroke-linecap="round" filter="url(#b02)"/><line x1="3.25" y1="-0.89" x2="5.01" y2="-4.34" stroke="#fff" stroke-width="0.20" opacity="0.133" stroke-linecap="round" filter="url(#b02)"/><line x1="3.14" y1="0.94" x2="4.72" y2="5.29" stroke="#fff" stroke-width="0.20" opacity="0.206" stroke-linecap="round" filter="url(#b02)"/><line x1="3.14" y1="-0.94" x2="4.72" y2="-5.29" stroke="#fff" stroke-width="0.20" opacity="0.206" stroke-linecap="round" filter="url(#b02)"/><line x1="3.02" y1="0.97" x2="3.84" y2="4.51" stroke="#fff" stroke-width="0.20" opacity="0.109" stroke-linecap="round" filter="url(#b02)"/><line x1="3.02" y1="-0.97" x2="3.84" y2="-4.51" stroke="#fff" stroke-width="0.20" opacity="0.109" stroke-linecap="round" filter="url(#b02)"/><line x1="2.90" y1="0.99" x2="3.41" y2="5.84" stroke="#fff" stroke-width="0.20" opacity="0.230" stroke-linecap="round" filter="url(#b02)"/><line x1="2.90" y1="-0.99" x2="3.41" y2="-5.84" stroke="#fff" stroke-width="0.20" opacity="0.230" stroke-linecap="round" filter="url(#b02)"/><use href="#gsC" transform="translate(2.80 0.00) scale(3.40 2.80)" opacity="0.396"/><polygon points="-1.00,1.38 0.00,1.10 0.70,0.68 1.30,0.36 2.00,0.26 3.00,0.26 3.40,0.44 3.90,0.80 4.60,1.15 4.60,0.00 4.60,0.00 4.60,-1.15 3.90,-0.80 3.40,-0.44 3.00,-0.26 2.00,-0.26 1.30,-0.36 0.70,-0.68 0.00,-1.10 -1.00,-1.38" fill="#fff" opacity="0.300" filter="url(#b1)"/><polygon points="-1.00,1.38 0.00,1.10 0.70,0.68 1.30,0.36 2.00,0.26 3.00,0.26 3.40,0.44 3.90,0.80 4.60,1.15 4.60,0.00 4.60,0.00 4.60,-1.15 3.90,-0.80 3.40,-0.44 3.00,-0.26 2.00,-0.26 1.30,-0.36 0.70,-0.68 0.00,-1.10 -1.00,-1.38" fill="#fff" opacity="0.675" filter="url(#b04)"/><polygon points="-1.00,1.38 0.00,1.10 0.70,0.68 1.30,0.36 2.00,0.26 3.00,0.26 3.40,0.44 3.90,0.80 4.60,1.15 4.60,0.00 4.60,0.00 4.60,-1.15 3.90,-0.80 3.40,-0.44 3.00,-0.26 2.00,-0.26 1.30,-0.36 0.70,-0.68 0.00,-1.10 -1.00,-1.38" fill="#fff" opacity="0.400" filter="url(#b02)"/><g clip-path="url(#sph)"><circle r="1" fill="url(#rg26)" transform="translate(6.00 0.00) scale(4.30 4.30)"/><use href="#gsD" transform="translate(8.30 0.00) scale(0.60 0.80)" opacity="0.550"/><polygon points="4.10,0.50 4.50,1.10 5.20,1.40 6.00,1.45 6.70,1.20 7.10,0.70 7.25,0.00 7.25,0.00 7.10,-0.70 6.70,-1.20 6.00,-1.45 5.20,-1.40 4.50,-1.10 4.10,-0.50" fill="#fff" opacity="1.000" filter="url(#b02)"/><rect x="4.50" y="-3.3" width="6.00" height="6.6" fill="#000" opacity="0.40" filter="url(#spk)"/><ellipse cx="7.3" cy="0" rx="2.55" ry="2.6" fill="none" stroke="#000" stroke-width="0.95" opacity="0.70" filter="url(#spk3)"/></g><polygon points="-1.00,1.20 0.00,0.95 0.70,0.56 1.30,0.27 2.00,0.19 3.00,0.19 3.40,0.36 3.90,0.70 4.50,1.05 4.50,0.00 4.50,0.00 4.50,-1.05 3.90,-0.70 3.40,-0.36 3.00,-0.19 2.00,-0.19 1.30,-0.27 0.70,-0.56 0.00,-0.95 -1.00,-1.20" fill="#fff" opacity="1.000" filter="url(#b02)"/></g></g><ellipse cx="315.99" cy="432.25" rx="12.7" ry="12.0" fill="none" stroke="#fff" stroke-width="1.05"/></g><text x="484.1" y="407.2" font-family="Liberation Sans, sans-serif" font-weight="bold" font-size="12.4" fill="#fff" text-anchor="end" textLength="33.0" lengthAdjust="spacingAndGlyphs">n=2.5</text><rect x="493.20" y="394.00" width="4.8" height="76.50" fill="url(#cb)"/><text x="500.0" y="397.0" font-family="Liberation Sans, sans-serif" font-weight="bold" font-size="6.6" fill="#111" stroke="#111" stroke-width="0.28">0.3</text><text x="500.0" y="411.1" font-family="Liberation Sans, sans-serif" font-weight="bold" font-size="6.6" fill="#111" stroke="#111" stroke-width="0.28">0.25</text><text x="500.0" y="425.3" font-family="Liberation Sans, sans-serif" font-weight="bold" font-size="6.6" fill="#111" stroke="#111" stroke-width="0.28">0.2</text><text x="500.0" y="439.4" font-family="Liberation Sans, sans-serif" font-weight="bold" font-size="6.6" fill="#111" stroke="#111" stroke-width="0.28">0.15</text><text x="500.0" y="453.6" font-family="Liberation Sans, sans-serif" font-weight="bold" font-size="6.6" fill="#111" stroke="#111" stroke-width="0.28">0.1</text><text x="500.0" y="467.7" font-family="Liberation Sans, sans-serif" font-weight="bold" font-size="6.6" fill="#111" stroke="#111" stroke-width="0.28">0.05</text><text x="281.5" y="397.1" font-family="Liberation Sans, sans-serif" font-weight="bold" font-size="8.1" fill="#111" stroke="#111" stroke-width="0.28" text-anchor="end">10</text><text x="281.5" y="416.0" font-family="Liberation Sans, sans-serif" font-weight="bold" font-size="8.1" fill="#111" stroke="#111" stroke-width="0.28" text-anchor="end">5</text><text x="281.5" y="434.9" font-family="Liberation Sans, sans-serif" font-weight="bold" font-size="8.1" fill="#111" stroke="#111" stroke-width="0.28" text-anchor="end">0</text><text x="281.5" y="453.9" font-family="Liberation Sans, sans-serif" font-weight="bold" font-size="8.1" fill="#111" stroke="#111" stroke-width="0.28" text-anchor="end">-5</text><text x="281.5" y="472.8" font-family="Liberation Sans, sans-serif" font-weight="bold" font-size="8.1" fill="#111" stroke="#111" stroke-width="0.28" text-anchor="end">-10</text><text transform="translate(266.8 432.2) rotate(-90)" font-family="Liberation Sans, sans-serif" font-weight="bold" font-size="8.3" fill="#111" stroke="#111" stroke-width="0.28" text-anchor="middle">z(µm)</text><text x="288.2" y="480.9" font-family="Liberation Sans, sans-serif" font-weight="bold" font-size="8.1" fill="#111" stroke="#111" stroke-width="0.28" text-anchor="middle">0</text><text x="328.6" y="480.9" font-family="Liberation Sans, sans-serif" font-weight="bold" font-size="8.1" fill="#111" stroke="#111" stroke-width="0.28" text-anchor="middle">10</text><text x="369.0" y="480.9" font-family="Liberation Sans, sans-serif" font-weight="bold" font-size="8.1" fill="#111" stroke="#111" stroke-width="0.28" text-anchor="middle">20</text><text x="409.4" y="480.9" font-family="Liberation Sans, sans-serif" font-weight="bold" font-size="8.1" fill="#111" stroke="#111" stroke-width="0.28" text-anchor="middle">30</text><text x="449.8" y="480.9" font-family="Liberation Sans, sans-serif" font-weight="bold" font-size="8.1" fill="#111" stroke="#111" stroke-width="0.28" text-anchor="middle">40</text><text x="490.2" y="480.9" font-family="Liberation Sans, sans-serif" font-weight="bold" font-size="8.1" fill="#111" stroke="#111" stroke-width="0.28" text-anchor="middle">50</text><text x="385.3" y="490.5" font-family="Liberation Sans, sans-serif" font-weight="bold" font-size="7.8" fill="#111" stroke="#111" stroke-width="0.28" text-anchor="middle">x(µm)</text><g clip-path="url(#cL)"><rect x="20" y="5" width="246" height="144" fill="url(#bgL)"/><polygon points="87.6,84.5 127.5,64.3 131,101" fill="url(#coneL)"/><polygon points="53.6,82.4 87.6,83.6 87.6,85.6 53.6,89.2" fill="url(#tapL)"/><polygon points="209.3,65 263,63.7 263,97.8 209.3,100" fill="url(#fib)"/><ellipse cx="209.3" cy="82.5" rx="6" ry="17.5" fill="#0a0d12"/><ellipse cx="210" cy="83" rx="3.5" ry="6" fill="#5a0a10" opacity="0.8" filter="url(#b1)"/><ellipse cx="192.5" cy="83" rx="17.3" ry="4.2" fill="#8e1a26" opacity="0.7"/><circle cx="150" cy="82.9" r="26.3" fill="#565656" opacity="0.9"/><g clip-path="url(#cSphL)"><circle cx="149.0" cy="84.2" r="25.0" fill="#030303"/><ellipse cx="129.5" cy="82" rx="15" ry="30" fill="url(#sphL)"/><ellipse cx="126" cy="70" rx="4" ry="12" fill="#ffb0b0" opacity="0.45" transform="rotate(20 126 70)"/></g><g transform="rotate(-1.8 105 56)"><rect x="87.6" y="54.2" width="36.2" height="4.2" fill="#3e3e3e"/></g><g transform="rotate(-1.5 186 54)"><rect x="169" y="52" width="35.5" height="4.2" fill="#3e3e3e"/></g><text x="95.9" y="49.6" font-family="Liberation Sans, sans-serif" font-size="25" fill="#404040" textLength="17" lengthAdjust="spacingAndGlyphs">L</text><text x="176" y="49.6" font-family="Liberation Sans, sans-serif" font-size="24.6" fill="#404040" textLength="19.5" lengthAdjust="spacingAndGlyphs">D</text><g stroke="#222" stroke-width="1" fill="none"><path d="M32.9,105 V121.5 H49.5 M32.9,121.5 L37.6,131"/></g><g fill="#222"><polygon points="32.9,103 31.3,106.5 34.5,106.5"/><polygon points="51.5,121.5 48,119.9 48,123.1"/><polygon points="38.5,132.8 35.6,130.4 38.3,129"/></g><text x="35.8" y="105" font-family="Liberation Sans, sans-serif" font-weight="bold" font-size="6.5" fill="#222">z</text><text x="46" y="117.5" font-family="Liberation Sans, sans-serif" font-weight="bold" font-size="6.5" fill="#222">x</text><text x="39.6" y="136.5" font-family="Liberation Sans, sans-serif" font-weight="bold" font-size="6.5" fill="#222">y</text></g><g clip-path="url(#cR)"><rect x="335" y="5" width="212" height="144" fill="url(#bgR)"/><polygon points="410,8 544,8 544,133.2 492,86.4 478.3,73.5 466,60.5" fill="#7396d8"/><polygon points="464,8 544,8 544,42" fill="#86a2dc"/><polygon points="501,8 544,8 544,29.5" fill="#90aadf"/><polygon points="478.3,72 544,55 544,133.2 492,86.4 478.3,73.5" fill="#6a93dc"/><polygon points="520,62 544,55 544,133.2" fill="#7a9cdc" opacity="0.6"/><polygon points="337,83 389,73 466,58 478.3,73.5 478.3,89.5 337,121" fill="url(#floorR)"/><polygon points="478.3,73.5 492,86.4 478.3,89.5" fill="#4a78d6"/><polygon points="337,73.5 466,49.5 466,62 440,70 337,83.5" fill="url(#wallR)"/><polygon points="446,53.2 466,49.5 466,81 446,76" fill="#2c56d6"/><polygon points="397,82 446,71 466,69 466,81 478.3,89.5 417,103.1" fill="#9fa9d6"/><polygon points="446,72 466,69 466,81 478.3,89.5 452,95.3" fill="#aab4dc" opacity="0.7"/><polygon points="466,61 544,43.5 544,55 478.3,72" fill="#5a66a8"/><polygon points="466,61 478.3,65.5 478.3,89.5 466,81" fill="#4f5aa2"/><polygon points="466,66 478.3,70 478.3,85 466,79" fill="#8a3c78" opacity="0.55" filter="url(#b1)"/><ellipse cx="403" cy="94" rx="6" ry="3.5" fill="#ff2848" opacity="0.8" filter="url(#b15)" transform="rotate(-25 403 94)"/><polygon points="397,86 418,75.5 421,93" fill="url(#coneR)" opacity="0.95"/><line x1="379" y1="90.8" x2="397.5" y2="86" stroke="#e8202c" stroke-width="1.9" stroke-linecap="round"/><ellipse cx="460" cy="76" rx="13" ry="3.7" fill="#f03468" opacity="0.9" transform="rotate(-11 460 76)"/><circle cx="432" cy="81.5" r="17" fill="#05050c"/><g clip-path="url(#cSphR)"><ellipse cx="416" cy="81" rx="9" ry="13" fill="url(#sphR)"/><ellipse cx="436" cy="92" rx="12" ry="5" fill="#1a2a70" opacity="0.5" filter="url(#b2)"/></g><circle cx="429.4" cy="72.2" r="0.9" fill="#fff"/><text x="390.3" y="68.4" font-family="Liberation Sans, sans-serif" font-size="17.5" fill="#e9e9f2" transform="rotate(-4 395 62)">L</text><line x1="391" y1="74.2" x2="410" y2="70" stroke="#e6e6ee" stroke-width="1.5"/><text x="442.6" y="56.8" font-family="Liberation Sans, sans-serif" font-size="17.2" fill="#e9e9f2" transform="rotate(-4 449 51)">D</text><line x1="442.4" y1="61.8" x2="461" y2="58.4" stroke="#e6e6ee" stroke-width="1.5"/></g><text x="259" y="161.2" font-family="Liberation Serif, serif" font-size="11.5" fill="#111" text-anchor="middle">(a)</text><text x="259" y="553.2" font-family="Liberation Serif, serif" font-size="11.5" fill="#111" text-anchor="middle">(b)</text>
</svg></body></html>
